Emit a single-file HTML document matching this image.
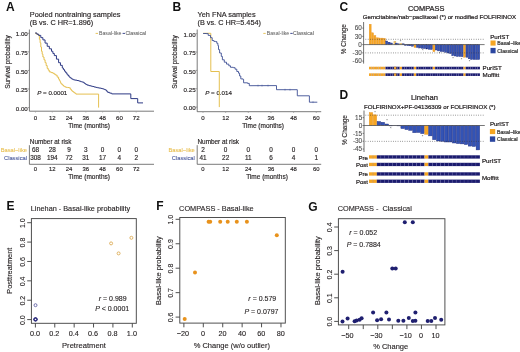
<!DOCTYPE html>
<html><head><meta charset="utf-8"><style>
html,body{margin:0;padding:0;background:#fff;}
svg{display:block;will-change:transform;font-family:"Liberation Sans", sans-serif;}
</style></head><body>
<svg width="520" height="352" viewBox="0 0 520 352">
<rect width="520" height="352" fill="#fff"/>
<text x="6.0" y="11.3" font-size="12" text-anchor="start" fill="#111" font-weight="bold">A</text>
<text x="172.6" y="10.8" font-size="12" text-anchor="start" fill="#111" font-weight="bold">B</text>
<text x="339.5" y="10.8" font-size="12" text-anchor="start" fill="#111" font-weight="bold">C</text>
<text x="339.5" y="98.6" font-size="12" text-anchor="start" fill="#111" font-weight="bold">D</text>
<text x="6.5" y="210.3" font-size="12" text-anchor="start" fill="#111" font-weight="bold">E</text>
<text x="156.3" y="210.3" font-size="12" text-anchor="start" fill="#111" font-weight="bold">F</text>
<text x="308.3" y="210.9" font-size="12" text-anchor="start" fill="#111" font-weight="bold">G</text>
<text x="29.8" y="17.1" font-size="7.35" text-anchor="start" fill="#231f20" stroke="#231f20" stroke-width="0.150">Pooled nontraining samples</text>
<text x="29.8" y="25.2" font-size="7.3" text-anchor="start" fill="#231f20" stroke="#231f20" stroke-width="0.150">(B vs. C HR=1.896)</text>
<line x1="29.4" y1="29.5" x2="29.4" y2="111.2" stroke="#4d4d4d" stroke-width="0.75"/>
<line x1="29.4" y1="111.2" x2="154.0" y2="111.2" stroke="#4d4d4d" stroke-width="0.75"/>
<line x1="27.799999999999997" y1="33.3" x2="29.4" y2="33.3" stroke="#777" stroke-width="0.7"/>
<text x="27.799999999999997" y="36.4" font-size="6.2" text-anchor="end" fill="#231f20" stroke="#231f20" stroke-width="0.150">1.00</text>
<line x1="27.799999999999997" y1="51.875" x2="29.4" y2="51.875" stroke="#777" stroke-width="0.7"/>
<text x="27.799999999999997" y="54.975" font-size="6.2" text-anchor="end" fill="#231f20" stroke="#231f20" stroke-width="0.150">0.75</text>
<line x1="27.799999999999997" y1="70.44999999999999" x2="29.4" y2="70.44999999999999" stroke="#777" stroke-width="0.7"/>
<text x="27.799999999999997" y="73.54999999999998" font-size="6.2" text-anchor="end" fill="#231f20" stroke="#231f20" stroke-width="0.150">0.50</text>
<line x1="27.799999999999997" y1="89.02499999999999" x2="29.4" y2="89.02499999999999" stroke="#777" stroke-width="0.7"/>
<text x="27.799999999999997" y="92.12499999999999" font-size="6.2" text-anchor="end" fill="#231f20" stroke="#231f20" stroke-width="0.150">0.25</text>
<line x1="27.799999999999997" y1="107.6" x2="29.4" y2="107.6" stroke="#777" stroke-width="0.7"/>
<text x="27.799999999999997" y="110.69999999999999" font-size="6.2" text-anchor="end" fill="#231f20" stroke="#231f20" stroke-width="0.150">0.00</text>
<line x1="35.5" y1="111.2" x2="35.5" y2="112.5" stroke="#999" stroke-width="0.7"/>
<text x="35.5" y="119.5" font-size="6.1" text-anchor="middle" fill="#231f20" stroke="#231f20" stroke-width="0.150">0</text>
<line x1="52.2796" y1="111.2" x2="52.2796" y2="112.5" stroke="#999" stroke-width="0.7"/>
<text x="52.2796" y="119.5" font-size="6.1" text-anchor="middle" fill="#231f20" stroke="#231f20" stroke-width="0.150">12</text>
<line x1="69.0592" y1="111.2" x2="69.0592" y2="112.5" stroke="#999" stroke-width="0.7"/>
<text x="69.0592" y="119.5" font-size="6.1" text-anchor="middle" fill="#231f20" stroke="#231f20" stroke-width="0.150">24</text>
<line x1="85.8388" y1="111.2" x2="85.8388" y2="112.5" stroke="#999" stroke-width="0.7"/>
<text x="85.8388" y="119.5" font-size="6.1" text-anchor="middle" fill="#231f20" stroke="#231f20" stroke-width="0.150">36</text>
<line x1="102.61840000000001" y1="111.2" x2="102.61840000000001" y2="112.5" stroke="#999" stroke-width="0.7"/>
<text x="102.61840000000001" y="119.5" font-size="6.1" text-anchor="middle" fill="#231f20" stroke="#231f20" stroke-width="0.150">48</text>
<line x1="119.39800000000001" y1="111.2" x2="119.39800000000001" y2="112.5" stroke="#999" stroke-width="0.7"/>
<text x="119.39800000000001" y="119.5" font-size="6.1" text-anchor="middle" fill="#231f20" stroke="#231f20" stroke-width="0.150">60</text>
<line x1="136.1776" y1="111.2" x2="136.1776" y2="112.5" stroke="#999" stroke-width="0.7"/>
<text x="136.1776" y="119.5" font-size="6.1" text-anchor="middle" fill="#231f20" stroke="#231f20" stroke-width="0.150">72</text>
<text x="89.10000000000001" y="127.6" font-size="6.5" text-anchor="middle" fill="#231f20" stroke="#231f20" stroke-width="0.150">Time (months)</text>
<text x="9.8" y="62.0" font-size="6.4" text-anchor="middle" fill="#231f20" stroke="#231f20" stroke-width="0.150" transform="rotate(-90 9.8 62.0)">Survival probability</text>
<text x="37.2" y="95.30000000000001" font-size="6.2" fill="#231f20" stroke="#231f20" stroke-width="0.15"><tspan font-style="italic">P</tspan> = 0.0001</text>
<line x1="95.6" y1="33.4" x2="98.0" y2="33.4" stroke="#e4bd48" stroke-width="0.9"/>
<text x="99.0" y="35.3" font-size="5.2" text-anchor="start" fill="#555">Basal-like</text>
<line x1="122.6" y1="33.4" x2="125.0" y2="33.4" stroke="#2d3984" stroke-width="0.9"/>
<text x="125.4" y="35.3" font-size="5.2" text-anchor="start" fill="#444">Classical</text>
<text x="29.8" y="143.9" font-size="6.4" text-anchor="start" fill="#231f20" stroke="#231f20" stroke-width="0.150">Number at risk</text>
<line x1="29.4" y1="145.2" x2="29.4" y2="164.3" stroke="#4d4d4d" stroke-width="0.75"/>
<line x1="29.4" y1="164.3" x2="154.0" y2="164.3" stroke="#4d4d4d" stroke-width="0.75"/>
<text x="27.0" y="152.0" font-size="5.75" text-anchor="end" fill="#e8bf50" stroke="#e8bf50" stroke-width="0.100">Basal−like</text>
<text x="27.0" y="160.1" font-size="5.75" text-anchor="end" fill="#4a5a9c" stroke="#4a5a9c" stroke-width="0.100">Classical</text>
<text x="35.5" y="170.8" font-size="5.9" text-anchor="middle" fill="#231f20" stroke="#231f20" stroke-width="0.150">0</text>
<text x="35.5" y="152.3" font-size="6.4" text-anchor="middle" fill="#231f20" stroke="#231f20" stroke-width="0.150">68</text>
<text x="35.5" y="160.2" font-size="6.4" text-anchor="middle" fill="#231f20" stroke="#231f20" stroke-width="0.150">308</text>
<text x="52.2796" y="170.8" font-size="5.9" text-anchor="middle" fill="#231f20" stroke="#231f20" stroke-width="0.150">12</text>
<text x="52.2796" y="152.3" font-size="6.4" text-anchor="middle" fill="#231f20" stroke="#231f20" stroke-width="0.150">28</text>
<text x="52.2796" y="160.2" font-size="6.4" text-anchor="middle" fill="#231f20" stroke="#231f20" stroke-width="0.150">194</text>
<text x="69.0592" y="170.8" font-size="5.9" text-anchor="middle" fill="#231f20" stroke="#231f20" stroke-width="0.150">24</text>
<text x="69.0592" y="152.3" font-size="6.4" text-anchor="middle" fill="#231f20" stroke="#231f20" stroke-width="0.150">9</text>
<text x="69.0592" y="160.2" font-size="6.4" text-anchor="middle" fill="#231f20" stroke="#231f20" stroke-width="0.150">72</text>
<text x="85.8388" y="170.8" font-size="5.9" text-anchor="middle" fill="#231f20" stroke="#231f20" stroke-width="0.150">36</text>
<text x="85.8388" y="152.3" font-size="6.4" text-anchor="middle" fill="#231f20" stroke="#231f20" stroke-width="0.150">3</text>
<text x="85.8388" y="160.2" font-size="6.4" text-anchor="middle" fill="#231f20" stroke="#231f20" stroke-width="0.150">31</text>
<text x="102.61840000000001" y="170.8" font-size="5.9" text-anchor="middle" fill="#231f20" stroke="#231f20" stroke-width="0.150">48</text>
<text x="102.61840000000001" y="152.3" font-size="6.4" text-anchor="middle" fill="#231f20" stroke="#231f20" stroke-width="0.150">0</text>
<text x="102.61840000000001" y="160.2" font-size="6.4" text-anchor="middle" fill="#231f20" stroke="#231f20" stroke-width="0.150">17</text>
<text x="119.39800000000001" y="170.8" font-size="5.9" text-anchor="middle" fill="#231f20" stroke="#231f20" stroke-width="0.150">60</text>
<text x="119.39800000000001" y="152.3" font-size="6.4" text-anchor="middle" fill="#231f20" stroke="#231f20" stroke-width="0.150">0</text>
<text x="119.39800000000001" y="160.2" font-size="6.4" text-anchor="middle" fill="#231f20" stroke="#231f20" stroke-width="0.150">4</text>
<text x="136.1776" y="170.8" font-size="5.9" text-anchor="middle" fill="#231f20" stroke="#231f20" stroke-width="0.150">72</text>
<text x="136.1776" y="152.3" font-size="6.4" text-anchor="middle" fill="#231f20" stroke="#231f20" stroke-width="0.150">0</text>
<text x="136.1776" y="160.2" font-size="6.4" text-anchor="middle" fill="#231f20" stroke="#231f20" stroke-width="0.150">2</text>
<text x="89.10000000000001" y="179.0" font-size="6.5" text-anchor="middle" fill="#231f20" stroke="#231f20" stroke-width="0.150">Time (months)</text>
<text x="197.5" y="17.1" font-size="7.35" text-anchor="start" fill="#231f20" stroke="#231f20" stroke-width="0.150">Yeh FNA samples</text>
<text x="197.5" y="25.2" font-size="7.3" text-anchor="start" fill="#231f20" stroke="#231f20" stroke-width="0.150">(B vs. C HR=5.454)</text>
<line x1="197.2" y1="29.5" x2="197.2" y2="111.7" stroke="#4d4d4d" stroke-width="0.75"/>
<line x1="197.2" y1="111.7" x2="321.2" y2="111.7" stroke="#4d4d4d" stroke-width="0.75"/>
<line x1="195.6" y1="33.69999999999999" x2="197.2" y2="33.69999999999999" stroke="#777" stroke-width="0.7"/>
<text x="195.6" y="36.79999999999999" font-size="6.2" text-anchor="end" fill="#231f20" stroke="#231f20" stroke-width="0.150">1.00</text>
<line x1="195.6" y1="52.04999999999999" x2="197.2" y2="52.04999999999999" stroke="#777" stroke-width="0.7"/>
<text x="195.6" y="55.14999999999999" font-size="6.2" text-anchor="end" fill="#231f20" stroke="#231f20" stroke-width="0.150">0.75</text>
<line x1="195.6" y1="70.39999999999999" x2="197.2" y2="70.39999999999999" stroke="#777" stroke-width="0.7"/>
<text x="195.6" y="73.49999999999999" font-size="6.2" text-anchor="end" fill="#231f20" stroke="#231f20" stroke-width="0.150">0.50</text>
<line x1="195.6" y1="88.75" x2="197.2" y2="88.75" stroke="#777" stroke-width="0.7"/>
<text x="195.6" y="91.85" font-size="6.2" text-anchor="end" fill="#231f20" stroke="#231f20" stroke-width="0.150">0.25</text>
<line x1="195.6" y1="107.1" x2="197.2" y2="107.1" stroke="#777" stroke-width="0.7"/>
<text x="195.6" y="110.19999999999999" font-size="6.2" text-anchor="end" fill="#231f20" stroke="#231f20" stroke-width="0.150">0.00</text>
<line x1="203.0" y1="111.7" x2="203.0" y2="113.0" stroke="#999" stroke-width="0.7"/>
<text x="203.0" y="120.0" font-size="6.1" text-anchor="middle" fill="#231f20" stroke="#231f20" stroke-width="0.150">0</text>
<line x1="225.65" y1="111.7" x2="225.65" y2="113.0" stroke="#999" stroke-width="0.7"/>
<text x="225.65" y="120.0" font-size="6.1" text-anchor="middle" fill="#231f20" stroke="#231f20" stroke-width="0.150">12</text>
<line x1="248.3" y1="111.7" x2="248.3" y2="113.0" stroke="#999" stroke-width="0.7"/>
<text x="248.3" y="120.0" font-size="6.1" text-anchor="middle" fill="#231f20" stroke="#231f20" stroke-width="0.150">24</text>
<line x1="270.95" y1="111.7" x2="270.95" y2="113.0" stroke="#999" stroke-width="0.7"/>
<text x="270.95" y="120.0" font-size="6.1" text-anchor="middle" fill="#231f20" stroke="#231f20" stroke-width="0.150">36</text>
<line x1="293.6" y1="111.7" x2="293.6" y2="113.0" stroke="#999" stroke-width="0.7"/>
<text x="293.6" y="120.0" font-size="6.1" text-anchor="middle" fill="#231f20" stroke="#231f20" stroke-width="0.150">48</text>
<line x1="316.25" y1="111.7" x2="316.25" y2="113.0" stroke="#999" stroke-width="0.7"/>
<text x="316.25" y="120.0" font-size="6.1" text-anchor="middle" fill="#231f20" stroke="#231f20" stroke-width="0.150">60</text>
<text x="263.2" y="127.6" font-size="6.5" text-anchor="middle" fill="#231f20" stroke="#231f20" stroke-width="0.150">Time (months)</text>
<text x="177.0" y="62.0" font-size="6.4" text-anchor="middle" fill="#231f20" stroke="#231f20" stroke-width="0.150" transform="rotate(-90 177.0 62.0)">Survival probability</text>
<text x="205.2" y="95.4" font-size="6.2" fill="#231f20" stroke="#231f20" stroke-width="0.15"><tspan font-style="italic">P</tspan> = 0.014</text>
<line x1="263.3" y1="33.4" x2="265.7" y2="33.4" stroke="#e4bd48" stroke-width="0.9"/>
<text x="266.7" y="35.3" font-size="5.2" text-anchor="start" fill="#555">Basal-like</text>
<line x1="290.3" y1="33.4" x2="292.7" y2="33.4" stroke="#2d3984" stroke-width="0.9"/>
<text x="293.09999999999997" y="35.3" font-size="5.2" text-anchor="start" fill="#444">Classical</text>
<text x="197.5" y="143.9" font-size="6.4" text-anchor="start" fill="#231f20" stroke="#231f20" stroke-width="0.150">Number at risk</text>
<line x1="197.2" y1="145.2" x2="197.2" y2="164.3" stroke="#4d4d4d" stroke-width="0.75"/>
<line x1="197.2" y1="164.3" x2="321.2" y2="164.3" stroke="#4d4d4d" stroke-width="0.75"/>
<text x="194.79999999999998" y="152.0" font-size="5.75" text-anchor="end" fill="#e8bf50" stroke="#e8bf50" stroke-width="0.100">Basal−like</text>
<text x="194.79999999999998" y="160.1" font-size="5.75" text-anchor="end" fill="#4a5a9c" stroke="#4a5a9c" stroke-width="0.100">Classical</text>
<text x="203.0" y="170.8" font-size="5.9" text-anchor="middle" fill="#231f20" stroke="#231f20" stroke-width="0.150">0</text>
<text x="203.0" y="152.3" font-size="6.4" text-anchor="middle" fill="#231f20" stroke="#231f20" stroke-width="0.150">2</text>
<text x="203.0" y="160.2" font-size="6.4" text-anchor="middle" fill="#231f20" stroke="#231f20" stroke-width="0.150">41</text>
<text x="225.65" y="170.8" font-size="5.9" text-anchor="middle" fill="#231f20" stroke="#231f20" stroke-width="0.150">12</text>
<text x="225.65" y="152.3" font-size="6.4" text-anchor="middle" fill="#231f20" stroke="#231f20" stroke-width="0.150">0</text>
<text x="225.65" y="160.2" font-size="6.4" text-anchor="middle" fill="#231f20" stroke="#231f20" stroke-width="0.150">22</text>
<text x="248.3" y="170.8" font-size="5.9" text-anchor="middle" fill="#231f20" stroke="#231f20" stroke-width="0.150">24</text>
<text x="248.3" y="152.3" font-size="6.4" text-anchor="middle" fill="#231f20" stroke="#231f20" stroke-width="0.150">0</text>
<text x="248.3" y="160.2" font-size="6.4" text-anchor="middle" fill="#231f20" stroke="#231f20" stroke-width="0.150">11</text>
<text x="270.95" y="170.8" font-size="5.9" text-anchor="middle" fill="#231f20" stroke="#231f20" stroke-width="0.150">36</text>
<text x="270.95" y="152.3" font-size="6.4" text-anchor="middle" fill="#231f20" stroke="#231f20" stroke-width="0.150">0</text>
<text x="270.95" y="160.2" font-size="6.4" text-anchor="middle" fill="#231f20" stroke="#231f20" stroke-width="0.150">6</text>
<text x="293.6" y="170.8" font-size="5.9" text-anchor="middle" fill="#231f20" stroke="#231f20" stroke-width="0.150">48</text>
<text x="293.6" y="152.3" font-size="6.4" text-anchor="middle" fill="#231f20" stroke="#231f20" stroke-width="0.150">0</text>
<text x="293.6" y="160.2" font-size="6.4" text-anchor="middle" fill="#231f20" stroke="#231f20" stroke-width="0.150">4</text>
<text x="316.25" y="170.8" font-size="5.9" text-anchor="middle" fill="#231f20" stroke="#231f20" stroke-width="0.150">60</text>
<text x="316.25" y="152.3" font-size="6.4" text-anchor="middle" fill="#231f20" stroke="#231f20" stroke-width="0.150">0</text>
<text x="316.25" y="160.2" font-size="6.4" text-anchor="middle" fill="#231f20" stroke="#231f20" stroke-width="0.150">1</text>
<text x="267.0" y="179.0" font-size="6.5" text-anchor="middle" fill="#231f20" stroke="#231f20" stroke-width="0.150">Time (months)</text>
<polyline points="35.10,33.30 36.90,33.30 36.90,34.50 38.70,34.50 38.70,35.70 39.40,35.70 39.40,39.25 40.10,39.25 40.10,42.80 40.80,42.80 40.80,47.05 41.50,47.05 41.50,51.30 42.20,51.30 42.20,54.15 42.90,54.15 42.90,57.00 44.00,57.00 44.00,59.85 45.10,59.85 45.10,62.70 46.15,62.70 46.15,65.55 47.20,65.55 47.20,68.40 48.25,68.40 48.25,70.15 49.30,70.15 49.30,71.90 51.10,71.90 51.10,72.60 52.90,72.60 52.90,73.30 54.30,73.30 54.30,74.25 55.70,74.25 55.70,75.20 57.15,75.20 57.15,77.10 58.60,77.10 58.60,79.00 59.30,79.00 59.30,80.30 60.00,80.30 60.00,81.60 60.55,81.60 60.55,82.75 61.10,82.75 61.10,83.90 62.25,83.90 62.25,85.00 63.40,85.00 63.40,86.10 64.55,86.10 64.55,86.70 65.70,86.70 65.70,87.30 67.40,87.30 67.40,87.55 69.10,87.55 69.10,87.80 70.25,87.80 70.25,89.25 71.40,89.25 71.40,90.70 72.50,90.70 72.50,91.55 73.60,91.55 73.60,92.40 74.75,92.40 74.75,93.25 75.90,93.25 75.90,94.10 98.60,94.10 98.60,107.60" fill="none" stroke="#e4bd48" stroke-width="0.95" stroke-linejoin="round"/>
<polyline points="35.10,33.00 36.90,33.00 36.90,34.20 38.70,34.20 38.70,35.40 40.80,35.40 40.80,37.65 42.90,37.65 42.90,39.90 45.05,39.90 45.05,43.10 47.20,43.10 47.20,46.30 49.35,46.30 49.35,48.80 51.50,48.80 51.50,51.30 52.90,51.30 52.90,53.45 54.30,53.45 54.30,55.60 56.45,55.60 56.45,59.15 58.60,59.15 58.60,62.70 60.45,62.70 60.45,65.35 62.30,65.35 62.30,68.00 63.40,68.00 63.40,69.60 64.50,69.60 64.50,71.20 65.65,71.20 65.65,72.70 66.80,72.70 66.80,74.20 67.95,74.20 67.95,75.60 69.10,75.60 69.10,77.00 70.25,77.00 70.25,77.90 71.40,77.90 71.40,78.80 72.50,78.80 72.50,79.35 73.60,79.35 73.60,79.90 75.30,79.90 75.30,80.20 77.00,80.20 77.00,80.50 78.75,80.50 78.75,81.05 80.50,81.05 80.50,81.60 81.60,81.60 81.60,81.90 82.70,81.90 82.70,82.20 83.85,82.20 83.85,83.05 85.00,83.05 85.00,83.90 86.15,83.90 86.15,84.55 87.30,84.55 87.30,85.20 89.00,85.20 89.00,85.65 90.70,85.65 90.70,86.10 92.40,86.10 92.40,86.55 94.10,86.55 94.10,87.00 95.80,87.00 95.80,87.40 97.50,87.40 97.50,87.80 99.20,87.80 99.20,88.10 100.90,88.10 100.90,88.40 102.05,88.40 102.05,88.70 103.20,88.70 103.20,89.00 104.35,89.00 104.35,89.55 105.50,89.55 105.50,90.10 106.60,90.10 106.60,91.25 107.70,91.25 107.70,92.40 109.70,92.40 109.70,93.15 111.70,93.15 111.70,93.90 130.80,93.90 130.80,98.60 137.70,98.60 137.70,102.90 143.00,102.90" fill="none" stroke="#2d3984" stroke-width="1.0" stroke-linejoin="round"/>
<polyline points="203.20,33.30 210.80,33.30 210.80,71.50 219.30,71.50 219.30,107.10" fill="none" stroke="#e4bd48" stroke-width="0.95" stroke-linejoin="round"/>
<polyline points="203.10,33.50 206.00,33.50 206.00,33.60 208.20,33.60 208.20,35.40 210.50,35.40 210.50,37.70 212.20,37.70 212.20,40.50 213.90,40.50 213.90,41.40 215.60,41.40 215.60,41.60 216.80,41.60 216.80,43.30 217.90,43.30 217.90,45.60 218.50,45.60 218.50,49.60 219.60,49.60 219.60,53.00 221.30,53.00 221.30,56.40 222.40,56.40 222.40,59.80 224.30,59.80 224.30,62.20 226.50,62.20 226.50,64.10 228.80,64.10 228.80,65.80 230.50,65.80 230.50,67.30 233.40,67.30 233.40,67.70 235.10,67.70 235.10,69.20 236.80,69.20 236.80,71.50 238.50,71.50 238.50,73.20 239.60,73.20 239.60,76.00 240.80,76.00 240.80,78.90 243.00,78.90 243.00,79.40 243.60,79.40 243.60,82.80 247.60,82.80 247.60,83.40 249.30,83.40 249.30,85.70 276.50,85.60 276.50,89.70 297.30,89.70 297.30,95.80 309.40,95.80 309.40,102.20 317.30,102.20" fill="none" stroke="#3d4f94" stroke-width="0.9" stroke-linejoin="round"/>
<line x1="258" y1="84.69999999999999" x2="258" y2="86.5" stroke="#3d4f94" stroke-width="0.5"/>
<line x1="262" y1="84.69999999999999" x2="262" y2="86.5" stroke="#3d4f94" stroke-width="0.5"/>
<line x1="268" y1="84.69999999999999" x2="268" y2="86.5" stroke="#3d4f94" stroke-width="0.5"/>
<line x1="285" y1="88.8" x2="285" y2="90.60000000000001" stroke="#3d4f94" stroke-width="0.5"/>
<line x1="290" y1="88.8" x2="290" y2="90.60000000000001" stroke="#3d4f94" stroke-width="0.5"/>
<line x1="313" y1="101.3" x2="313" y2="103.10000000000001" stroke="#3d4f94" stroke-width="0.5"/>
<text x="426.2" y="11.4" font-size="7.4" text-anchor="middle" fill="#231f20" stroke="#231f20" stroke-width="0.220">COMPASS</text>
<text x="362.8" y="18.7" font-size="6.1" text-anchor="start" fill="#231f20" stroke="#231f20" stroke-width="0.220">Gemcitabine/nab−paclitaxel (*) or modified FOLFIRINOX</text>
<text x="346.1" y="39.2" font-size="6.4" text-anchor="middle" fill="#231f20" stroke="#231f20" stroke-width="0.120" transform="rotate(-90 346.1 39.2)">% Change</text>
<line x1="363.6" y1="22.0" x2="363.6" y2="63.6" stroke="#4d4d4d" stroke-width="0.8"/>
<line x1="362.2" y1="28.1" x2="363.6" y2="28.1" stroke="#4d4d4d" stroke-width="0.7"/>
<text x="361.8" y="30.3" font-size="6.4" text-anchor="end" fill="#505050" stroke="#505050" stroke-width="0.120">60</text>
<line x1="362.2" y1="36.35" x2="363.6" y2="36.35" stroke="#4d4d4d" stroke-width="0.7"/>
<text x="361.8" y="38.550000000000004" font-size="6.4" text-anchor="end" fill="#505050" stroke="#505050" stroke-width="0.120">30</text>
<line x1="362.2" y1="44.6" x2="363.6" y2="44.6" stroke="#4d4d4d" stroke-width="0.7"/>
<text x="361.8" y="46.800000000000004" font-size="6.4" text-anchor="end" fill="#505050" stroke="#505050" stroke-width="0.120">0</text>
<line x1="362.2" y1="52.85" x2="363.6" y2="52.85" stroke="#4d4d4d" stroke-width="0.7"/>
<text x="361.8" y="55.050000000000004" font-size="6.4" text-anchor="end" fill="#505050" stroke="#505050" stroke-width="0.120">-30</text>
<line x1="362.2" y1="61.1" x2="363.6" y2="61.1" stroke="#4d4d4d" stroke-width="0.7"/>
<text x="361.8" y="63.300000000000004" font-size="6.4" text-anchor="end" fill="#505050" stroke="#505050" stroke-width="0.120">-60</text>
<rect x="369.20" y="24.20" width="1.96" height="20.40" fill="#f6a623" stroke="#e8962a" stroke-width="0.4"/>
<rect x="371.56" y="32.80" width="1.96" height="11.80" fill="#f6a623" stroke="#e8962a" stroke-width="0.4"/>
<rect x="373.92" y="35.50" width="1.96" height="9.10" fill="#f6a623" stroke="#e8962a" stroke-width="0.4"/>
<rect x="376.28" y="37.80" width="1.96" height="6.80" fill="#f6a623" stroke="#e8962a" stroke-width="0.4"/>
<rect x="378.64" y="38.00" width="1.96" height="6.60" fill="#f6a623" stroke="#e8962a" stroke-width="0.4"/>
<rect x="381.00" y="38.10" width="1.96" height="6.50" fill="#f6a623" stroke="#e8962a" stroke-width="0.4"/>
<rect x="383.36" y="38.40" width="1.96" height="6.20" fill="#f6a623" stroke="#e8962a" stroke-width="0.4"/>
<rect x="385.72" y="41.00" width="1.96" height="3.60" fill="#3353b5" stroke="#1e2878" stroke-width="0.4"/>
<rect x="388.08" y="42.20" width="1.96" height="2.40" fill="#3353b5" stroke="#1e2878" stroke-width="0.4"/>
<rect x="390.44" y="43.00" width="1.96" height="1.60" fill="#3353b5" stroke="#1e2878" stroke-width="0.4"/>
<rect x="393.90" y="41.20" width="1.96" height="3.40" fill="#f0c670" stroke="#d8b060" stroke-width="0.4"/>
<rect x="395.16" y="43.10" width="1.96" height="1.50" fill="#3353b5" stroke="#1e2878" stroke-width="0.4"/>
<rect x="397.52" y="43.80" width="1.96" height="0.80" fill="#3353b5" stroke="#1e2878" stroke-width="0.4"/>
<rect x="399.88" y="43.30" width="1.96" height="1.30" fill="#f0c670" stroke="#d8b060" stroke-width="0.4"/>
<rect x="402.24" y="43.80" width="1.96" height="0.80" fill="#3353b5" stroke="#1e2878" stroke-width="0.4"/>
<rect x="404.60" y="44.60" width="1.96" height="0.80" fill="#3353b5" stroke="#1e2878" stroke-width="0.4"/>
<rect x="406.96" y="44.60" width="1.96" height="1.00" fill="#3353b5" stroke="#1e2878" stroke-width="0.4"/>
<rect x="409.32" y="44.60" width="1.96" height="1.20" fill="#3353b5" stroke="#1e2878" stroke-width="0.4"/>
<rect x="411.68" y="44.60" width="1.96" height="1.60" fill="#3353b5" stroke="#1e2878" stroke-width="0.4"/>
<rect x="414.04" y="44.60" width="1.96" height="2.90" fill="#f6a623" stroke="#e8962a" stroke-width="0.4"/>
<rect x="416.40" y="44.60" width="1.96" height="2.80" fill="#3353b5" stroke="#1e2878" stroke-width="0.4"/>
<rect x="418.76" y="44.60" width="1.96" height="3.40" fill="#3353b5" stroke="#1e2878" stroke-width="0.4"/>
<rect x="421.12" y="44.60" width="1.96" height="3.70" fill="#3353b5" stroke="#1e2878" stroke-width="0.4"/>
<rect x="423.48" y="44.60" width="1.96" height="3.90" fill="#3353b5" stroke="#1e2878" stroke-width="0.4"/>
<rect x="425.84" y="44.60" width="1.96" height="4.40" fill="#3353b5" stroke="#1e2878" stroke-width="0.4"/>
<rect x="428.20" y="44.60" width="1.96" height="4.70" fill="#3353b5" stroke="#1e2878" stroke-width="0.4"/>
<rect x="430.56" y="44.60" width="1.96" height="4.90" fill="#3353b5" stroke="#1e2878" stroke-width="0.4"/>
<rect x="432.92" y="44.60" width="1.96" height="7.10" fill="#f6a623" stroke="#e8962a" stroke-width="0.4"/>
<rect x="435.28" y="44.60" width="1.96" height="5.40" fill="#3353b5" stroke="#1e2878" stroke-width="0.4"/>
<rect x="437.64" y="44.60" width="1.96" height="6.30" fill="#3353b5" stroke="#1e2878" stroke-width="0.4"/>
<rect x="440.00" y="44.60" width="1.96" height="6.90" fill="#3353b5" stroke="#1e2878" stroke-width="0.4"/>
<rect x="442.36" y="44.60" width="1.96" height="7.10" fill="#3353b5" stroke="#1e2878" stroke-width="0.4"/>
<rect x="444.72" y="44.60" width="1.96" height="7.70" fill="#3353b5" stroke="#1e2878" stroke-width="0.4"/>
<rect x="447.08" y="44.60" width="1.96" height="8.40" fill="#3353b5" stroke="#1e2878" stroke-width="0.4"/>
<rect x="449.44" y="44.60" width="1.96" height="9.00" fill="#3353b5" stroke="#1e2878" stroke-width="0.4"/>
<rect x="451.80" y="44.60" width="1.96" height="11.10" fill="#3353b5" stroke="#1e2878" stroke-width="0.4"/>
<rect x="454.16" y="44.60" width="1.96" height="11.40" fill="#3353b5" stroke="#1e2878" stroke-width="0.4"/>
<rect x="456.52" y="44.60" width="1.96" height="11.90" fill="#3353b5" stroke="#1e2878" stroke-width="0.4"/>
<rect x="458.88" y="44.60" width="1.96" height="11.90" fill="#3353b5" stroke="#1e2878" stroke-width="0.4"/>
<rect x="461.24" y="44.60" width="1.96" height="12.10" fill="#3353b5" stroke="#1e2878" stroke-width="0.4"/>
<rect x="463.60" y="44.60" width="1.96" height="12.60" fill="#f6a623" stroke="#e8962a" stroke-width="0.4"/>
<rect x="465.96" y="44.60" width="1.96" height="12.60" fill="#3353b5" stroke="#1e2878" stroke-width="0.4"/>
<rect x="468.32" y="44.60" width="1.96" height="14.20" fill="#3353b5" stroke="#1e2878" stroke-width="0.4"/>
<rect x="470.68" y="44.60" width="1.96" height="14.90" fill="#3353b5" stroke="#1e2878" stroke-width="0.4"/>
<rect x="473.04" y="44.60" width="1.96" height="14.90" fill="#3353b5" stroke="#1e2878" stroke-width="0.4"/>
<rect x="475.40" y="44.60" width="1.96" height="14.90" fill="#3353b5" stroke="#1e2878" stroke-width="0.4"/>
<rect x="477.76" y="44.60" width="1.96" height="14.90" fill="#3353b5" stroke="#1e2878" stroke-width="0.4"/>
<line x1="363.6" y1="44.6" x2="484.6" y2="44.6" stroke="#555" stroke-width="0.8"/>
<line x1="365.5" y1="39.3" x2="484.6" y2="39.3" stroke="#333" stroke-width="0.7" stroke-dasharray="0.7 1.6"/>
<line x1="365.5" y1="52.9" x2="484.6" y2="52.9" stroke="#333" stroke-width="0.7" stroke-dasharray="0.7 1.6"/>
<text x="400.5" y="43.2" font-size="4.0" text-anchor="middle" fill="#333">*</text>
<text x="422.7" y="52.0" font-size="4.0" text-anchor="middle" fill="#333">*</text>
<text x="439.6" y="55.0" font-size="4.0" text-anchor="middle" fill="#333">*</text>
<text x="453.0" y="60.2" font-size="4.0" text-anchor="middle" fill="#333">*</text>
<text x="461.5" y="61.300000000000004" font-size="4.0" text-anchor="middle" fill="#333">*</text>
<text x="469.5" y="62.9" font-size="4.0" text-anchor="middle" fill="#333">*</text>
<rect x="369.00" y="66.75" width="2.36" height="2.60" fill="#f6a623"/>
<rect x="371.36" y="66.75" width="2.36" height="2.60" fill="#f6a623"/>
<rect x="373.72" y="66.75" width="2.36" height="2.60" fill="#f6a623"/>
<rect x="376.08" y="66.75" width="2.36" height="2.60" fill="#f6a623"/>
<rect x="378.44" y="66.75" width="2.36" height="2.60" fill="#f6a623"/>
<rect x="380.80" y="66.75" width="2.36" height="2.60" fill="#f6a623"/>
<rect x="383.16" y="66.75" width="2.36" height="2.60" fill="#f6a623"/>
<rect x="385.52" y="66.75" width="2.36" height="2.60" fill="#1b1b6e"/>
<rect x="387.88" y="66.75" width="2.36" height="2.60" fill="#1b1b6e"/>
<rect x="390.24" y="66.75" width="2.36" height="2.60" fill="#1b1b6e"/>
<rect x="392.60" y="66.75" width="2.36" height="2.60" fill="#1b1b6e"/>
<rect x="394.96" y="66.75" width="2.36" height="2.60" fill="#1b1b6e"/>
<rect x="397.32" y="66.75" width="2.36" height="2.60" fill="#1b1b6e"/>
<rect x="399.68" y="66.75" width="2.36" height="2.60" fill="#f6a623"/>
<rect x="402.04" y="66.75" width="2.36" height="2.60" fill="#1b1b6e"/>
<rect x="404.40" y="66.75" width="2.36" height="2.60" fill="#1b1b6e"/>
<rect x="406.76" y="66.75" width="2.36" height="2.60" fill="#1b1b6e"/>
<rect x="409.12" y="66.75" width="2.36" height="2.60" fill="#1b1b6e"/>
<rect x="411.48" y="66.75" width="2.36" height="2.60" fill="#1b1b6e"/>
<rect x="413.84" y="66.75" width="2.36" height="2.60" fill="#f6a623"/>
<rect x="416.20" y="66.75" width="2.36" height="2.60" fill="#1b1b6e"/>
<rect x="418.56" y="66.75" width="2.36" height="2.60" fill="#1b1b6e"/>
<rect x="420.92" y="66.75" width="2.36" height="2.60" fill="#1b1b6e"/>
<rect x="423.28" y="66.75" width="2.36" height="2.60" fill="#1b1b6e"/>
<rect x="425.64" y="66.75" width="2.36" height="2.60" fill="#1b1b6e"/>
<rect x="428.00" y="66.75" width="2.36" height="2.60" fill="#1b1b6e"/>
<rect x="430.36" y="66.75" width="2.36" height="2.60" fill="#1b1b6e"/>
<rect x="432.72" y="66.75" width="2.36" height="2.60" fill="#f6a623"/>
<rect x="435.08" y="66.75" width="2.36" height="2.60" fill="#1b1b6e"/>
<rect x="437.44" y="66.75" width="2.36" height="2.60" fill="#1b1b6e"/>
<rect x="439.80" y="66.75" width="2.36" height="2.60" fill="#1b1b6e"/>
<rect x="442.16" y="66.75" width="2.36" height="2.60" fill="#1b1b6e"/>
<rect x="444.52" y="66.75" width="2.36" height="2.60" fill="#1b1b6e"/>
<rect x="446.88" y="66.75" width="2.36" height="2.60" fill="#1b1b6e"/>
<rect x="449.24" y="66.75" width="2.36" height="2.60" fill="#1b1b6e"/>
<rect x="451.60" y="66.75" width="2.36" height="2.60" fill="#1b1b6e"/>
<rect x="453.96" y="66.75" width="2.36" height="2.60" fill="#1b1b6e"/>
<rect x="456.32" y="66.75" width="2.36" height="2.60" fill="#1b1b6e"/>
<rect x="458.68" y="66.75" width="2.36" height="2.60" fill="#1b1b6e"/>
<rect x="461.04" y="66.75" width="2.36" height="2.60" fill="#1b1b6e"/>
<rect x="463.40" y="66.75" width="2.36" height="2.60" fill="#f6a623"/>
<rect x="465.76" y="66.75" width="2.36" height="2.60" fill="#1b1b6e"/>
<rect x="468.12" y="66.75" width="2.36" height="2.60" fill="#1b1b6e"/>
<rect x="470.48" y="66.75" width="2.36" height="2.60" fill="#1b1b6e"/>
<rect x="472.84" y="66.75" width="2.36" height="2.60" fill="#1b1b6e"/>
<rect x="475.20" y="66.75" width="2.36" height="2.60" fill="#1b1b6e"/>
<rect x="477.56" y="66.75" width="2.36" height="2.60" fill="#1b1b6e"/>
<rect x="393.90" y="66.75" width="2.40" height="2.60" fill="#f6a623"/>
<rect x="371.14" y="66.75" width="0.44" height="2.60" fill="#7a7ab8" opacity="0.6"/>
<rect x="373.50" y="66.75" width="0.44" height="2.60" fill="#7a7ab8" opacity="0.6"/>
<rect x="375.86" y="66.75" width="0.44" height="2.60" fill="#7a7ab8" opacity="0.6"/>
<rect x="378.22" y="66.75" width="0.44" height="2.60" fill="#7a7ab8" opacity="0.6"/>
<rect x="380.58" y="66.75" width="0.44" height="2.60" fill="#7a7ab8" opacity="0.6"/>
<rect x="382.94" y="66.75" width="0.44" height="2.60" fill="#7a7ab8" opacity="0.6"/>
<rect x="385.30" y="66.75" width="0.44" height="2.60" fill="#7a7ab8" opacity="0.6"/>
<rect x="387.66" y="66.75" width="0.44" height="2.60" fill="#7a7ab8" opacity="0.6"/>
<rect x="390.02" y="66.75" width="0.44" height="2.60" fill="#7a7ab8" opacity="0.6"/>
<rect x="392.38" y="66.75" width="0.44" height="2.60" fill="#7a7ab8" opacity="0.6"/>
<rect x="394.74" y="66.75" width="0.44" height="2.60" fill="#7a7ab8" opacity="0.6"/>
<rect x="397.10" y="66.75" width="0.44" height="2.60" fill="#7a7ab8" opacity="0.6"/>
<rect x="399.46" y="66.75" width="0.44" height="2.60" fill="#7a7ab8" opacity="0.6"/>
<rect x="401.82" y="66.75" width="0.44" height="2.60" fill="#7a7ab8" opacity="0.6"/>
<rect x="404.18" y="66.75" width="0.44" height="2.60" fill="#7a7ab8" opacity="0.6"/>
<rect x="406.54" y="66.75" width="0.44" height="2.60" fill="#7a7ab8" opacity="0.6"/>
<rect x="408.90" y="66.75" width="0.44" height="2.60" fill="#7a7ab8" opacity="0.6"/>
<rect x="411.26" y="66.75" width="0.44" height="2.60" fill="#7a7ab8" opacity="0.6"/>
<rect x="413.62" y="66.75" width="0.44" height="2.60" fill="#7a7ab8" opacity="0.6"/>
<rect x="415.98" y="66.75" width="0.44" height="2.60" fill="#7a7ab8" opacity="0.6"/>
<rect x="418.34" y="66.75" width="0.44" height="2.60" fill="#7a7ab8" opacity="0.6"/>
<rect x="420.70" y="66.75" width="0.44" height="2.60" fill="#7a7ab8" opacity="0.6"/>
<rect x="423.06" y="66.75" width="0.44" height="2.60" fill="#7a7ab8" opacity="0.6"/>
<rect x="425.42" y="66.75" width="0.44" height="2.60" fill="#7a7ab8" opacity="0.6"/>
<rect x="427.78" y="66.75" width="0.44" height="2.60" fill="#7a7ab8" opacity="0.6"/>
<rect x="430.14" y="66.75" width="0.44" height="2.60" fill="#7a7ab8" opacity="0.6"/>
<rect x="432.50" y="66.75" width="0.44" height="2.60" fill="#7a7ab8" opacity="0.6"/>
<rect x="434.86" y="66.75" width="0.44" height="2.60" fill="#7a7ab8" opacity="0.6"/>
<rect x="437.22" y="66.75" width="0.44" height="2.60" fill="#7a7ab8" opacity="0.6"/>
<rect x="439.58" y="66.75" width="0.44" height="2.60" fill="#7a7ab8" opacity="0.6"/>
<rect x="441.94" y="66.75" width="0.44" height="2.60" fill="#7a7ab8" opacity="0.6"/>
<rect x="444.30" y="66.75" width="0.44" height="2.60" fill="#7a7ab8" opacity="0.6"/>
<rect x="446.66" y="66.75" width="0.44" height="2.60" fill="#7a7ab8" opacity="0.6"/>
<rect x="449.02" y="66.75" width="0.44" height="2.60" fill="#7a7ab8" opacity="0.6"/>
<rect x="451.38" y="66.75" width="0.44" height="2.60" fill="#7a7ab8" opacity="0.6"/>
<rect x="453.74" y="66.75" width="0.44" height="2.60" fill="#7a7ab8" opacity="0.6"/>
<rect x="456.10" y="66.75" width="0.44" height="2.60" fill="#7a7ab8" opacity="0.6"/>
<rect x="458.46" y="66.75" width="0.44" height="2.60" fill="#7a7ab8" opacity="0.6"/>
<rect x="460.82" y="66.75" width="0.44" height="2.60" fill="#7a7ab8" opacity="0.6"/>
<rect x="463.18" y="66.75" width="0.44" height="2.60" fill="#7a7ab8" opacity="0.6"/>
<rect x="465.54" y="66.75" width="0.44" height="2.60" fill="#7a7ab8" opacity="0.6"/>
<rect x="467.90" y="66.75" width="0.44" height="2.60" fill="#7a7ab8" opacity="0.6"/>
<rect x="470.26" y="66.75" width="0.44" height="2.60" fill="#7a7ab8" opacity="0.6"/>
<rect x="472.62" y="66.75" width="0.44" height="2.60" fill="#7a7ab8" opacity="0.6"/>
<rect x="474.98" y="66.75" width="0.44" height="2.60" fill="#7a7ab8" opacity="0.6"/>
<rect x="477.34" y="66.75" width="0.44" height="2.60" fill="#7a7ab8" opacity="0.6"/>
<rect x="369.00" y="73.35" width="2.36" height="2.60" fill="#f6a623"/>
<rect x="371.36" y="73.35" width="2.36" height="2.60" fill="#f6a623"/>
<rect x="373.72" y="73.35" width="2.36" height="2.60" fill="#f6a623"/>
<rect x="376.08" y="73.35" width="2.36" height="2.60" fill="#f6a623"/>
<rect x="378.44" y="73.35" width="2.36" height="2.60" fill="#f6a623"/>
<rect x="380.80" y="73.35" width="2.36" height="2.60" fill="#f6a623"/>
<rect x="383.16" y="73.35" width="2.36" height="2.60" fill="#f6a623"/>
<rect x="385.52" y="73.35" width="2.36" height="2.60" fill="#1b1b6e"/>
<rect x="387.88" y="73.35" width="2.36" height="2.60" fill="#1b1b6e"/>
<rect x="390.24" y="73.35" width="2.36" height="2.60" fill="#1b1b6e"/>
<rect x="392.60" y="73.35" width="2.36" height="2.60" fill="#1b1b6e"/>
<rect x="394.96" y="73.35" width="2.36" height="2.60" fill="#1b1b6e"/>
<rect x="397.32" y="73.35" width="2.36" height="2.60" fill="#1b1b6e"/>
<rect x="399.68" y="73.35" width="2.36" height="2.60" fill="#f6a623"/>
<rect x="402.04" y="73.35" width="2.36" height="2.60" fill="#1b1b6e"/>
<rect x="404.40" y="73.35" width="2.36" height="2.60" fill="#1b1b6e"/>
<rect x="406.76" y="73.35" width="2.36" height="2.60" fill="#1b1b6e"/>
<rect x="409.12" y="73.35" width="2.36" height="2.60" fill="#1b1b6e"/>
<rect x="411.48" y="73.35" width="2.36" height="2.60" fill="#1b1b6e"/>
<rect x="413.84" y="73.35" width="2.36" height="2.60" fill="#f6a623"/>
<rect x="416.20" y="73.35" width="2.36" height="2.60" fill="#1b1b6e"/>
<rect x="418.56" y="73.35" width="2.36" height="2.60" fill="#1b1b6e"/>
<rect x="420.92" y="73.35" width="2.36" height="2.60" fill="#1b1b6e"/>
<rect x="423.28" y="73.35" width="2.36" height="2.60" fill="#1b1b6e"/>
<rect x="425.64" y="73.35" width="2.36" height="2.60" fill="#1b1b6e"/>
<rect x="428.00" y="73.35" width="2.36" height="2.60" fill="#1b1b6e"/>
<rect x="430.36" y="73.35" width="2.36" height="2.60" fill="#1b1b6e"/>
<rect x="432.72" y="73.35" width="2.36" height="2.60" fill="#1b1b6e"/>
<rect x="435.08" y="73.35" width="2.36" height="2.60" fill="#1b1b6e"/>
<rect x="437.44" y="73.35" width="2.36" height="2.60" fill="#1b1b6e"/>
<rect x="439.80" y="73.35" width="2.36" height="2.60" fill="#1b1b6e"/>
<rect x="442.16" y="73.35" width="2.36" height="2.60" fill="#1b1b6e"/>
<rect x="444.52" y="73.35" width="2.36" height="2.60" fill="#1b1b6e"/>
<rect x="446.88" y="73.35" width="2.36" height="2.60" fill="#1b1b6e"/>
<rect x="449.24" y="73.35" width="2.36" height="2.60" fill="#1b1b6e"/>
<rect x="451.60" y="73.35" width="2.36" height="2.60" fill="#1b1b6e"/>
<rect x="453.96" y="73.35" width="2.36" height="2.60" fill="#1b1b6e"/>
<rect x="456.32" y="73.35" width="2.36" height="2.60" fill="#1b1b6e"/>
<rect x="458.68" y="73.35" width="2.36" height="2.60" fill="#1b1b6e"/>
<rect x="461.04" y="73.35" width="2.36" height="2.60" fill="#1b1b6e"/>
<rect x="463.40" y="73.35" width="2.36" height="2.60" fill="#f6a623"/>
<rect x="465.76" y="73.35" width="2.36" height="2.60" fill="#1b1b6e"/>
<rect x="468.12" y="73.35" width="2.36" height="2.60" fill="#1b1b6e"/>
<rect x="470.48" y="73.35" width="2.36" height="2.60" fill="#1b1b6e"/>
<rect x="472.84" y="73.35" width="2.36" height="2.60" fill="#1b1b6e"/>
<rect x="475.20" y="73.35" width="2.36" height="2.60" fill="#1b1b6e"/>
<rect x="477.56" y="73.35" width="2.36" height="2.60" fill="#1b1b6e"/>
<rect x="393.90" y="73.35" width="2.40" height="2.60" fill="#f6a623"/>
<rect x="371.14" y="73.35" width="0.44" height="2.60" fill="#7a7ab8" opacity="0.6"/>
<rect x="373.50" y="73.35" width="0.44" height="2.60" fill="#7a7ab8" opacity="0.6"/>
<rect x="375.86" y="73.35" width="0.44" height="2.60" fill="#7a7ab8" opacity="0.6"/>
<rect x="378.22" y="73.35" width="0.44" height="2.60" fill="#7a7ab8" opacity="0.6"/>
<rect x="380.58" y="73.35" width="0.44" height="2.60" fill="#7a7ab8" opacity="0.6"/>
<rect x="382.94" y="73.35" width="0.44" height="2.60" fill="#7a7ab8" opacity="0.6"/>
<rect x="385.30" y="73.35" width="0.44" height="2.60" fill="#7a7ab8" opacity="0.6"/>
<rect x="387.66" y="73.35" width="0.44" height="2.60" fill="#7a7ab8" opacity="0.6"/>
<rect x="390.02" y="73.35" width="0.44" height="2.60" fill="#7a7ab8" opacity="0.6"/>
<rect x="392.38" y="73.35" width="0.44" height="2.60" fill="#7a7ab8" opacity="0.6"/>
<rect x="394.74" y="73.35" width="0.44" height="2.60" fill="#7a7ab8" opacity="0.6"/>
<rect x="397.10" y="73.35" width="0.44" height="2.60" fill="#7a7ab8" opacity="0.6"/>
<rect x="399.46" y="73.35" width="0.44" height="2.60" fill="#7a7ab8" opacity="0.6"/>
<rect x="401.82" y="73.35" width="0.44" height="2.60" fill="#7a7ab8" opacity="0.6"/>
<rect x="404.18" y="73.35" width="0.44" height="2.60" fill="#7a7ab8" opacity="0.6"/>
<rect x="406.54" y="73.35" width="0.44" height="2.60" fill="#7a7ab8" opacity="0.6"/>
<rect x="408.90" y="73.35" width="0.44" height="2.60" fill="#7a7ab8" opacity="0.6"/>
<rect x="411.26" y="73.35" width="0.44" height="2.60" fill="#7a7ab8" opacity="0.6"/>
<rect x="413.62" y="73.35" width="0.44" height="2.60" fill="#7a7ab8" opacity="0.6"/>
<rect x="415.98" y="73.35" width="0.44" height="2.60" fill="#7a7ab8" opacity="0.6"/>
<rect x="418.34" y="73.35" width="0.44" height="2.60" fill="#7a7ab8" opacity="0.6"/>
<rect x="420.70" y="73.35" width="0.44" height="2.60" fill="#7a7ab8" opacity="0.6"/>
<rect x="423.06" y="73.35" width="0.44" height="2.60" fill="#7a7ab8" opacity="0.6"/>
<rect x="425.42" y="73.35" width="0.44" height="2.60" fill="#7a7ab8" opacity="0.6"/>
<rect x="427.78" y="73.35" width="0.44" height="2.60" fill="#7a7ab8" opacity="0.6"/>
<rect x="430.14" y="73.35" width="0.44" height="2.60" fill="#7a7ab8" opacity="0.6"/>
<rect x="432.50" y="73.35" width="0.44" height="2.60" fill="#7a7ab8" opacity="0.6"/>
<rect x="434.86" y="73.35" width="0.44" height="2.60" fill="#7a7ab8" opacity="0.6"/>
<rect x="437.22" y="73.35" width="0.44" height="2.60" fill="#7a7ab8" opacity="0.6"/>
<rect x="439.58" y="73.35" width="0.44" height="2.60" fill="#7a7ab8" opacity="0.6"/>
<rect x="441.94" y="73.35" width="0.44" height="2.60" fill="#7a7ab8" opacity="0.6"/>
<rect x="444.30" y="73.35" width="0.44" height="2.60" fill="#7a7ab8" opacity="0.6"/>
<rect x="446.66" y="73.35" width="0.44" height="2.60" fill="#7a7ab8" opacity="0.6"/>
<rect x="449.02" y="73.35" width="0.44" height="2.60" fill="#7a7ab8" opacity="0.6"/>
<rect x="451.38" y="73.35" width="0.44" height="2.60" fill="#7a7ab8" opacity="0.6"/>
<rect x="453.74" y="73.35" width="0.44" height="2.60" fill="#7a7ab8" opacity="0.6"/>
<rect x="456.10" y="73.35" width="0.44" height="2.60" fill="#7a7ab8" opacity="0.6"/>
<rect x="458.46" y="73.35" width="0.44" height="2.60" fill="#7a7ab8" opacity="0.6"/>
<rect x="460.82" y="73.35" width="0.44" height="2.60" fill="#7a7ab8" opacity="0.6"/>
<rect x="463.18" y="73.35" width="0.44" height="2.60" fill="#7a7ab8" opacity="0.6"/>
<rect x="465.54" y="73.35" width="0.44" height="2.60" fill="#7a7ab8" opacity="0.6"/>
<rect x="467.90" y="73.35" width="0.44" height="2.60" fill="#7a7ab8" opacity="0.6"/>
<rect x="470.26" y="73.35" width="0.44" height="2.60" fill="#7a7ab8" opacity="0.6"/>
<rect x="472.62" y="73.35" width="0.44" height="2.60" fill="#7a7ab8" opacity="0.6"/>
<rect x="474.98" y="73.35" width="0.44" height="2.60" fill="#7a7ab8" opacity="0.6"/>
<rect x="477.34" y="73.35" width="0.44" height="2.60" fill="#7a7ab8" opacity="0.6"/>
<text x="482.5" y="70.0" font-size="6.2" text-anchor="start" fill="#231f20" stroke="#231f20" stroke-width="0.220">PurIST</text>
<text x="482.5" y="77.4" font-size="6.2" text-anchor="start" fill="#231f20" stroke="#231f20" stroke-width="0.220">Moffitt</text>
<text x="490.2" y="38.6" font-size="6.1" text-anchor="start" fill="#231f20" stroke="#231f20" stroke-width="0.220">PurIST</text>
<rect x="490.50" y="40.50" width="5.10" height="5.10" fill="#f6a623"/>
<text x="497.3" y="45.3" font-size="5.2" text-anchor="start" fill="#333" stroke="#333" stroke-width="0.220">Basal−like</text>
<rect x="490.50" y="47.90" width="5.10" height="5.40" fill="#2b46a0"/>
<text x="497.3" y="52.7" font-size="5.2" text-anchor="start" fill="#333" stroke="#333" stroke-width="0.220">Classical</text>
<text x="424.4" y="100.2" font-size="7.6" text-anchor="middle" fill="#231f20" stroke="#231f20" stroke-width="0.220">Linehan</text>
<text x="363.9" y="108.6" font-size="6.15" text-anchor="start" fill="#231f20" stroke="#231f20" stroke-width="0.220">FOLFIRINOX+PF-04136309 or FOLFIRINOX (*)</text>
<text x="346.5" y="130.0" font-size="6.4" text-anchor="middle" fill="#231f20" stroke="#231f20" stroke-width="0.120" transform="rotate(-90 346.5 130.0)">% Change</text>
<line x1="364.0" y1="110.5" x2="364.0" y2="152.0" stroke="#4d4d4d" stroke-width="0.8"/>
<line x1="362.6" y1="117.6505" x2="364.0" y2="117.6505" stroke="#4d4d4d" stroke-width="0.7"/>
<text x="362.2" y="119.8505" font-size="6.4" text-anchor="end" fill="#505050" stroke="#505050" stroke-width="0.120">15</text>
<line x1="362.6" y1="125.5" x2="364.0" y2="125.5" stroke="#4d4d4d" stroke-width="0.7"/>
<text x="362.2" y="127.7" font-size="6.4" text-anchor="end" fill="#505050" stroke="#505050" stroke-width="0.120">0</text>
<line x1="362.6" y1="133.3495" x2="364.0" y2="133.3495" stroke="#4d4d4d" stroke-width="0.7"/>
<text x="362.2" y="135.5495" font-size="6.4" text-anchor="end" fill="#505050" stroke="#505050" stroke-width="0.120">-15</text>
<line x1="362.6" y1="141.199" x2="364.0" y2="141.199" stroke="#4d4d4d" stroke-width="0.7"/>
<text x="362.2" y="143.399" font-size="6.4" text-anchor="end" fill="#505050" stroke="#505050" stroke-width="0.120">-30</text>
<line x1="362.6" y1="149.0485" x2="364.0" y2="149.0485" stroke="#4d4d4d" stroke-width="0.7"/>
<text x="362.2" y="151.24849999999998" font-size="6.4" text-anchor="end" fill="#505050" stroke="#505050" stroke-width="0.120">-45</text>
<rect x="369.20" y="112.50" width="3.56" height="13.00" fill="#f6a623" stroke="#e8962a" stroke-width="0.4"/>
<rect x="373.16" y="114.80" width="3.56" height="10.70" fill="#f6a623" stroke="#e8962a" stroke-width="0.4"/>
<rect x="377.12" y="121.50" width="3.56" height="4.00" fill="#3353b5" stroke="#1e2878" stroke-width="0.4"/>
<rect x="381.08" y="122.30" width="3.56" height="3.20" fill="#3353b5" stroke="#1e2878" stroke-width="0.4"/>
<rect x="385.04" y="124.00" width="3.56" height="1.50" fill="#3353b5" stroke="#1e2878" stroke-width="0.4"/>
<rect x="389.00" y="125.50" width="3.56" height="0.40" fill="#3353b5" stroke="#1e2878" stroke-width="0.4"/>
<rect x="392.96" y="125.50" width="3.56" height="0.10" fill="#3353b5" stroke="#1e2878" stroke-width="0.4"/>
<rect x="396.92" y="125.50" width="3.56" height="0.40" fill="#3353b5" stroke="#1e2878" stroke-width="0.4"/>
<rect x="400.88" y="125.50" width="3.56" height="3.10" fill="#3353b5" stroke="#1e2878" stroke-width="0.4"/>
<rect x="404.84" y="125.50" width="3.56" height="4.10" fill="#3353b5" stroke="#1e2878" stroke-width="0.4"/>
<rect x="408.80" y="125.50" width="3.56" height="4.90" fill="#3353b5" stroke="#1e2878" stroke-width="0.4"/>
<rect x="412.76" y="125.50" width="3.56" height="7.20" fill="#3353b5" stroke="#1e2878" stroke-width="0.4"/>
<rect x="416.72" y="125.50" width="3.56" height="7.00" fill="#3353b5" stroke="#1e2878" stroke-width="0.4"/>
<rect x="420.68" y="125.50" width="3.56" height="8.10" fill="#3353b5" stroke="#1e2878" stroke-width="0.4"/>
<rect x="424.64" y="125.50" width="3.56" height="8.90" fill="#f6a623" stroke="#e8962a" stroke-width="0.4"/>
<rect x="428.60" y="125.50" width="3.56" height="10.40" fill="#3353b5" stroke="#1e2878" stroke-width="0.4"/>
<rect x="432.56" y="125.50" width="3.56" height="14.20" fill="#3353b5" stroke="#1e2878" stroke-width="0.4"/>
<rect x="436.52" y="125.50" width="3.56" height="15.50" fill="#3353b5" stroke="#1e2878" stroke-width="0.4"/>
<rect x="440.48" y="125.50" width="3.56" height="15.80" fill="#3353b5" stroke="#1e2878" stroke-width="0.4"/>
<rect x="444.44" y="125.50" width="3.56" height="16.50" fill="#3353b5" stroke="#1e2878" stroke-width="0.4"/>
<rect x="448.40" y="125.50" width="3.56" height="16.50" fill="#3353b5" stroke="#1e2878" stroke-width="0.4"/>
<rect x="452.36" y="125.50" width="3.56" height="17.50" fill="#3353b5" stroke="#1e2878" stroke-width="0.4"/>
<rect x="456.32" y="125.50" width="3.56" height="18.10" fill="#3353b5" stroke="#1e2878" stroke-width="0.4"/>
<rect x="460.28" y="125.50" width="3.56" height="18.40" fill="#3353b5" stroke="#1e2878" stroke-width="0.4"/>
<rect x="464.24" y="125.50" width="3.56" height="19.10" fill="#3353b5" stroke="#1e2878" stroke-width="0.4"/>
<rect x="468.20" y="125.50" width="3.56" height="20.60" fill="#3353b5" stroke="#1e2878" stroke-width="0.4"/>
<rect x="472.16" y="125.50" width="3.56" height="21.00" fill="#3353b5" stroke="#1e2878" stroke-width="0.4"/>
<rect x="476.12" y="125.50" width="3.56" height="24.40" fill="#3353b5" stroke="#1e2878" stroke-width="0.4"/>
<line x1="364.0" y1="125.5" x2="484.8" y2="125.5" stroke="#555" stroke-width="0.8"/>
<line x1="365.5" y1="115.2" x2="485.0" y2="115.2" stroke="#333" stroke-width="0.7" stroke-dasharray="0.7 1.6"/>
<line x1="365.5" y1="141.35" x2="485.0" y2="141.35" stroke="#333" stroke-width="0.7" stroke-dasharray="0.7 1.6"/>
<text x="375.0" y="113.5" font-size="4.0" text-anchor="middle" fill="#333">*</text>
<text x="387.1" y="122.19999999999999" font-size="4.0" text-anchor="middle" fill="#333">*</text>
<text x="390.8" y="130.29999999999998" font-size="4.0" text-anchor="middle" fill="#333">*</text>
<text x="422.5" y="138.4" font-size="4.0" text-anchor="middle" fill="#333">*</text>
<rect x="369.00" y="155.30" width="3.96" height="3.30" fill="#f6a623"/>
<rect x="372.96" y="155.30" width="3.96" height="3.30" fill="#f6a623"/>
<rect x="376.92" y="155.30" width="3.96" height="3.30" fill="#1b1b6e"/>
<rect x="380.88" y="155.30" width="3.96" height="3.30" fill="#1b1b6e"/>
<rect x="384.84" y="155.30" width="3.96" height="3.30" fill="#1b1b6e"/>
<rect x="388.80" y="155.30" width="3.96" height="3.30" fill="#1b1b6e"/>
<rect x="392.76" y="155.30" width="3.96" height="3.30" fill="#1b1b6e"/>
<rect x="396.72" y="155.30" width="3.96" height="3.30" fill="#1b1b6e"/>
<rect x="400.68" y="155.30" width="3.96" height="3.30" fill="#1b1b6e"/>
<rect x="404.64" y="155.30" width="3.96" height="3.30" fill="#1b1b6e"/>
<rect x="408.60" y="155.30" width="3.96" height="3.30" fill="#1b1b6e"/>
<rect x="412.56" y="155.30" width="3.96" height="3.30" fill="#1b1b6e"/>
<rect x="416.52" y="155.30" width="3.96" height="3.30" fill="#1b1b6e"/>
<rect x="420.48" y="155.30" width="3.96" height="3.30" fill="#1b1b6e"/>
<rect x="424.44" y="155.30" width="3.96" height="3.30" fill="#f6a623"/>
<rect x="428.40" y="155.30" width="3.96" height="3.30" fill="#1b1b6e"/>
<rect x="432.36" y="155.30" width="3.96" height="3.30" fill="#1b1b6e"/>
<rect x="436.32" y="155.30" width="3.96" height="3.30" fill="#1b1b6e"/>
<rect x="440.28" y="155.30" width="3.96" height="3.30" fill="#1b1b6e"/>
<rect x="444.24" y="155.30" width="3.96" height="3.30" fill="#1b1b6e"/>
<rect x="448.20" y="155.30" width="3.96" height="3.30" fill="#1b1b6e"/>
<rect x="452.16" y="155.30" width="3.96" height="3.30" fill="#1b1b6e"/>
<rect x="456.12" y="155.30" width="3.96" height="3.30" fill="#1b1b6e"/>
<rect x="460.08" y="155.30" width="3.96" height="3.30" fill="#1b1b6e"/>
<rect x="464.04" y="155.30" width="3.96" height="3.30" fill="#1b1b6e"/>
<rect x="468.00" y="155.30" width="3.96" height="3.30" fill="#1b1b6e"/>
<rect x="471.96" y="155.30" width="3.96" height="3.30" fill="#1b1b6e"/>
<rect x="475.92" y="155.30" width="3.96" height="3.30" fill="#1b1b6e"/>
<rect x="372.74" y="155.30" width="0.44" height="3.30" fill="#7a7ab8" opacity="0.6"/>
<rect x="376.70" y="155.30" width="0.44" height="3.30" fill="#7a7ab8" opacity="0.6"/>
<rect x="380.66" y="155.30" width="0.44" height="3.30" fill="#7a7ab8" opacity="0.6"/>
<rect x="384.62" y="155.30" width="0.44" height="3.30" fill="#7a7ab8" opacity="0.6"/>
<rect x="388.58" y="155.30" width="0.44" height="3.30" fill="#7a7ab8" opacity="0.6"/>
<rect x="392.54" y="155.30" width="0.44" height="3.30" fill="#7a7ab8" opacity="0.6"/>
<rect x="396.50" y="155.30" width="0.44" height="3.30" fill="#7a7ab8" opacity="0.6"/>
<rect x="400.46" y="155.30" width="0.44" height="3.30" fill="#7a7ab8" opacity="0.6"/>
<rect x="404.42" y="155.30" width="0.44" height="3.30" fill="#7a7ab8" opacity="0.6"/>
<rect x="408.38" y="155.30" width="0.44" height="3.30" fill="#7a7ab8" opacity="0.6"/>
<rect x="412.34" y="155.30" width="0.44" height="3.30" fill="#7a7ab8" opacity="0.6"/>
<rect x="416.30" y="155.30" width="0.44" height="3.30" fill="#7a7ab8" opacity="0.6"/>
<rect x="420.26" y="155.30" width="0.44" height="3.30" fill="#7a7ab8" opacity="0.6"/>
<rect x="424.22" y="155.30" width="0.44" height="3.30" fill="#7a7ab8" opacity="0.6"/>
<rect x="428.18" y="155.30" width="0.44" height="3.30" fill="#7a7ab8" opacity="0.6"/>
<rect x="432.14" y="155.30" width="0.44" height="3.30" fill="#7a7ab8" opacity="0.6"/>
<rect x="436.10" y="155.30" width="0.44" height="3.30" fill="#7a7ab8" opacity="0.6"/>
<rect x="440.06" y="155.30" width="0.44" height="3.30" fill="#7a7ab8" opacity="0.6"/>
<rect x="444.02" y="155.30" width="0.44" height="3.30" fill="#7a7ab8" opacity="0.6"/>
<rect x="447.98" y="155.30" width="0.44" height="3.30" fill="#7a7ab8" opacity="0.6"/>
<rect x="451.94" y="155.30" width="0.44" height="3.30" fill="#7a7ab8" opacity="0.6"/>
<rect x="455.90" y="155.30" width="0.44" height="3.30" fill="#7a7ab8" opacity="0.6"/>
<rect x="459.86" y="155.30" width="0.44" height="3.30" fill="#7a7ab8" opacity="0.6"/>
<rect x="463.82" y="155.30" width="0.44" height="3.30" fill="#7a7ab8" opacity="0.6"/>
<rect x="467.78" y="155.30" width="0.44" height="3.30" fill="#7a7ab8" opacity="0.6"/>
<rect x="471.74" y="155.30" width="0.44" height="3.30" fill="#7a7ab8" opacity="0.6"/>
<rect x="475.70" y="155.30" width="0.44" height="3.30" fill="#7a7ab8" opacity="0.6"/>
<rect x="369.00" y="162.80" width="3.96" height="3.30" fill="#f6a623"/>
<rect x="372.96" y="162.80" width="3.96" height="3.30" fill="#f6a623"/>
<rect x="376.92" y="162.80" width="3.96" height="3.30" fill="#1b1b6e"/>
<rect x="380.88" y="162.80" width="3.96" height="3.30" fill="#1b1b6e"/>
<rect x="384.84" y="162.80" width="3.96" height="3.30" fill="#1b1b6e"/>
<rect x="388.80" y="162.80" width="3.96" height="3.30" fill="#1b1b6e"/>
<rect x="392.76" y="162.80" width="3.96" height="3.30" fill="#1b1b6e"/>
<rect x="396.72" y="162.80" width="3.96" height="3.30" fill="#1b1b6e"/>
<rect x="400.68" y="162.80" width="3.96" height="3.30" fill="#1b1b6e"/>
<rect x="404.64" y="162.80" width="3.96" height="3.30" fill="#1b1b6e"/>
<rect x="408.60" y="162.80" width="3.96" height="3.30" fill="#1b1b6e"/>
<rect x="412.56" y="162.80" width="3.96" height="3.30" fill="#1b1b6e"/>
<rect x="416.52" y="162.80" width="3.96" height="3.30" fill="#1b1b6e"/>
<rect x="420.48" y="162.80" width="3.96" height="3.30" fill="#1b1b6e"/>
<rect x="424.44" y="162.80" width="3.96" height="3.30" fill="#f6a623"/>
<rect x="428.40" y="162.80" width="3.96" height="3.30" fill="#1b1b6e"/>
<rect x="432.36" y="162.80" width="3.96" height="3.30" fill="#1b1b6e"/>
<rect x="436.32" y="162.80" width="3.96" height="3.30" fill="#1b1b6e"/>
<rect x="440.28" y="162.80" width="3.96" height="3.30" fill="#1b1b6e"/>
<rect x="444.24" y="162.80" width="3.96" height="3.30" fill="#1b1b6e"/>
<rect x="448.20" y="162.80" width="3.96" height="3.30" fill="#1b1b6e"/>
<rect x="452.16" y="162.80" width="3.96" height="3.30" fill="#1b1b6e"/>
<rect x="456.12" y="162.80" width="3.96" height="3.30" fill="#1b1b6e"/>
<rect x="460.08" y="162.80" width="3.96" height="3.30" fill="#1b1b6e"/>
<rect x="464.04" y="162.80" width="3.96" height="3.30" fill="#1b1b6e"/>
<rect x="468.00" y="162.80" width="3.96" height="3.30" fill="#1b1b6e"/>
<rect x="471.96" y="162.80" width="3.96" height="3.30" fill="#1b1b6e"/>
<rect x="475.92" y="162.80" width="3.96" height="3.30" fill="#1b1b6e"/>
<rect x="372.74" y="162.80" width="0.44" height="3.30" fill="#7a7ab8" opacity="0.6"/>
<rect x="376.70" y="162.80" width="0.44" height="3.30" fill="#7a7ab8" opacity="0.6"/>
<rect x="380.66" y="162.80" width="0.44" height="3.30" fill="#7a7ab8" opacity="0.6"/>
<rect x="384.62" y="162.80" width="0.44" height="3.30" fill="#7a7ab8" opacity="0.6"/>
<rect x="388.58" y="162.80" width="0.44" height="3.30" fill="#7a7ab8" opacity="0.6"/>
<rect x="392.54" y="162.80" width="0.44" height="3.30" fill="#7a7ab8" opacity="0.6"/>
<rect x="396.50" y="162.80" width="0.44" height="3.30" fill="#7a7ab8" opacity="0.6"/>
<rect x="400.46" y="162.80" width="0.44" height="3.30" fill="#7a7ab8" opacity="0.6"/>
<rect x="404.42" y="162.80" width="0.44" height="3.30" fill="#7a7ab8" opacity="0.6"/>
<rect x="408.38" y="162.80" width="0.44" height="3.30" fill="#7a7ab8" opacity="0.6"/>
<rect x="412.34" y="162.80" width="0.44" height="3.30" fill="#7a7ab8" opacity="0.6"/>
<rect x="416.30" y="162.80" width="0.44" height="3.30" fill="#7a7ab8" opacity="0.6"/>
<rect x="420.26" y="162.80" width="0.44" height="3.30" fill="#7a7ab8" opacity="0.6"/>
<rect x="424.22" y="162.80" width="0.44" height="3.30" fill="#7a7ab8" opacity="0.6"/>
<rect x="428.18" y="162.80" width="0.44" height="3.30" fill="#7a7ab8" opacity="0.6"/>
<rect x="432.14" y="162.80" width="0.44" height="3.30" fill="#7a7ab8" opacity="0.6"/>
<rect x="436.10" y="162.80" width="0.44" height="3.30" fill="#7a7ab8" opacity="0.6"/>
<rect x="440.06" y="162.80" width="0.44" height="3.30" fill="#7a7ab8" opacity="0.6"/>
<rect x="444.02" y="162.80" width="0.44" height="3.30" fill="#7a7ab8" opacity="0.6"/>
<rect x="447.98" y="162.80" width="0.44" height="3.30" fill="#7a7ab8" opacity="0.6"/>
<rect x="451.94" y="162.80" width="0.44" height="3.30" fill="#7a7ab8" opacity="0.6"/>
<rect x="455.90" y="162.80" width="0.44" height="3.30" fill="#7a7ab8" opacity="0.6"/>
<rect x="459.86" y="162.80" width="0.44" height="3.30" fill="#7a7ab8" opacity="0.6"/>
<rect x="463.82" y="162.80" width="0.44" height="3.30" fill="#7a7ab8" opacity="0.6"/>
<rect x="467.78" y="162.80" width="0.44" height="3.30" fill="#7a7ab8" opacity="0.6"/>
<rect x="471.74" y="162.80" width="0.44" height="3.30" fill="#7a7ab8" opacity="0.6"/>
<rect x="475.70" y="162.80" width="0.44" height="3.30" fill="#7a7ab8" opacity="0.6"/>
<rect x="369.00" y="172.30" width="3.96" height="3.30" fill="#f6a623"/>
<rect x="372.96" y="172.30" width="3.96" height="3.30" fill="#f6a623"/>
<rect x="376.92" y="172.30" width="3.96" height="3.30" fill="#1b1b6e"/>
<rect x="380.88" y="172.30" width="3.96" height="3.30" fill="#1b1b6e"/>
<rect x="384.84" y="172.30" width="3.96" height="3.30" fill="#1b1b6e"/>
<rect x="388.80" y="172.30" width="3.96" height="3.30" fill="#1b1b6e"/>
<rect x="392.76" y="172.30" width="3.96" height="3.30" fill="#1b1b6e"/>
<rect x="396.72" y="172.30" width="3.96" height="3.30" fill="#1b1b6e"/>
<rect x="400.68" y="172.30" width="3.96" height="3.30" fill="#1b1b6e"/>
<rect x="404.64" y="172.30" width="3.96" height="3.30" fill="#1b1b6e"/>
<rect x="408.60" y="172.30" width="3.96" height="3.30" fill="#1b1b6e"/>
<rect x="412.56" y="172.30" width="3.96" height="3.30" fill="#1b1b6e"/>
<rect x="416.52" y="172.30" width="3.96" height="3.30" fill="#1b1b6e"/>
<rect x="420.48" y="172.30" width="3.96" height="3.30" fill="#1b1b6e"/>
<rect x="424.44" y="172.30" width="3.96" height="3.30" fill="#f6a623"/>
<rect x="428.40" y="172.30" width="3.96" height="3.30" fill="#1b1b6e"/>
<rect x="432.36" y="172.30" width="3.96" height="3.30" fill="#1b1b6e"/>
<rect x="436.32" y="172.30" width="3.96" height="3.30" fill="#1b1b6e"/>
<rect x="440.28" y="172.30" width="3.96" height="3.30" fill="#1b1b6e"/>
<rect x="444.24" y="172.30" width="3.96" height="3.30" fill="#1b1b6e"/>
<rect x="448.20" y="172.30" width="3.96" height="3.30" fill="#1b1b6e"/>
<rect x="452.16" y="172.30" width="3.96" height="3.30" fill="#1b1b6e"/>
<rect x="456.12" y="172.30" width="3.96" height="3.30" fill="#1b1b6e"/>
<rect x="460.08" y="172.30" width="3.96" height="3.30" fill="#1b1b6e"/>
<rect x="464.04" y="172.30" width="3.96" height="3.30" fill="#1b1b6e"/>
<rect x="468.00" y="172.30" width="3.96" height="3.30" fill="#1b1b6e"/>
<rect x="471.96" y="172.30" width="3.96" height="3.30" fill="#1b1b6e"/>
<rect x="475.92" y="172.30" width="3.96" height="3.30" fill="#1b1b6e"/>
<rect x="372.74" y="172.30" width="0.44" height="3.30" fill="#7a7ab8" opacity="0.6"/>
<rect x="376.70" y="172.30" width="0.44" height="3.30" fill="#7a7ab8" opacity="0.6"/>
<rect x="380.66" y="172.30" width="0.44" height="3.30" fill="#7a7ab8" opacity="0.6"/>
<rect x="384.62" y="172.30" width="0.44" height="3.30" fill="#7a7ab8" opacity="0.6"/>
<rect x="388.58" y="172.30" width="0.44" height="3.30" fill="#7a7ab8" opacity="0.6"/>
<rect x="392.54" y="172.30" width="0.44" height="3.30" fill="#7a7ab8" opacity="0.6"/>
<rect x="396.50" y="172.30" width="0.44" height="3.30" fill="#7a7ab8" opacity="0.6"/>
<rect x="400.46" y="172.30" width="0.44" height="3.30" fill="#7a7ab8" opacity="0.6"/>
<rect x="404.42" y="172.30" width="0.44" height="3.30" fill="#7a7ab8" opacity="0.6"/>
<rect x="408.38" y="172.30" width="0.44" height="3.30" fill="#7a7ab8" opacity="0.6"/>
<rect x="412.34" y="172.30" width="0.44" height="3.30" fill="#7a7ab8" opacity="0.6"/>
<rect x="416.30" y="172.30" width="0.44" height="3.30" fill="#7a7ab8" opacity="0.6"/>
<rect x="420.26" y="172.30" width="0.44" height="3.30" fill="#7a7ab8" opacity="0.6"/>
<rect x="424.22" y="172.30" width="0.44" height="3.30" fill="#7a7ab8" opacity="0.6"/>
<rect x="428.18" y="172.30" width="0.44" height="3.30" fill="#7a7ab8" opacity="0.6"/>
<rect x="432.14" y="172.30" width="0.44" height="3.30" fill="#7a7ab8" opacity="0.6"/>
<rect x="436.10" y="172.30" width="0.44" height="3.30" fill="#7a7ab8" opacity="0.6"/>
<rect x="440.06" y="172.30" width="0.44" height="3.30" fill="#7a7ab8" opacity="0.6"/>
<rect x="444.02" y="172.30" width="0.44" height="3.30" fill="#7a7ab8" opacity="0.6"/>
<rect x="447.98" y="172.30" width="0.44" height="3.30" fill="#7a7ab8" opacity="0.6"/>
<rect x="451.94" y="172.30" width="0.44" height="3.30" fill="#7a7ab8" opacity="0.6"/>
<rect x="455.90" y="172.30" width="0.44" height="3.30" fill="#7a7ab8" opacity="0.6"/>
<rect x="459.86" y="172.30" width="0.44" height="3.30" fill="#7a7ab8" opacity="0.6"/>
<rect x="463.82" y="172.30" width="0.44" height="3.30" fill="#7a7ab8" opacity="0.6"/>
<rect x="467.78" y="172.30" width="0.44" height="3.30" fill="#7a7ab8" opacity="0.6"/>
<rect x="471.74" y="172.30" width="0.44" height="3.30" fill="#7a7ab8" opacity="0.6"/>
<rect x="475.70" y="172.30" width="0.44" height="3.30" fill="#7a7ab8" opacity="0.6"/>
<rect x="369.00" y="179.60" width="3.96" height="3.30" fill="#f6a623"/>
<rect x="372.96" y="179.60" width="3.96" height="3.30" fill="#f6a623"/>
<rect x="376.92" y="179.60" width="3.96" height="3.30" fill="#1b1b6e"/>
<rect x="380.88" y="179.60" width="3.96" height="3.30" fill="#1b1b6e"/>
<rect x="384.84" y="179.60" width="3.96" height="3.30" fill="#1b1b6e"/>
<rect x="388.80" y="179.60" width="3.96" height="3.30" fill="#1b1b6e"/>
<rect x="392.76" y="179.60" width="3.96" height="3.30" fill="#1b1b6e"/>
<rect x="396.72" y="179.60" width="3.96" height="3.30" fill="#1b1b6e"/>
<rect x="400.68" y="179.60" width="3.96" height="3.30" fill="#1b1b6e"/>
<rect x="404.64" y="179.60" width="3.96" height="3.30" fill="#1b1b6e"/>
<rect x="408.60" y="179.60" width="3.96" height="3.30" fill="#1b1b6e"/>
<rect x="412.56" y="179.60" width="3.96" height="3.30" fill="#1b1b6e"/>
<rect x="416.52" y="179.60" width="3.96" height="3.30" fill="#1b1b6e"/>
<rect x="420.48" y="179.60" width="3.96" height="3.30" fill="#1b1b6e"/>
<rect x="424.44" y="179.60" width="3.96" height="3.30" fill="#f6a623"/>
<rect x="428.40" y="179.60" width="3.96" height="3.30" fill="#1b1b6e"/>
<rect x="432.36" y="179.60" width="3.96" height="3.30" fill="#1b1b6e"/>
<rect x="436.32" y="179.60" width="3.96" height="3.30" fill="#1b1b6e"/>
<rect x="440.28" y="179.60" width="3.96" height="3.30" fill="#1b1b6e"/>
<rect x="444.24" y="179.60" width="3.96" height="3.30" fill="#1b1b6e"/>
<rect x="448.20" y="179.60" width="3.96" height="3.30" fill="#1b1b6e"/>
<rect x="452.16" y="179.60" width="3.96" height="3.30" fill="#1b1b6e"/>
<rect x="456.12" y="179.60" width="3.96" height="3.30" fill="#1b1b6e"/>
<rect x="460.08" y="179.60" width="3.96" height="3.30" fill="#1b1b6e"/>
<rect x="464.04" y="179.60" width="3.96" height="3.30" fill="#1b1b6e"/>
<rect x="468.00" y="179.60" width="3.96" height="3.30" fill="#1b1b6e"/>
<rect x="471.96" y="179.60" width="3.96" height="3.30" fill="#1b1b6e"/>
<rect x="475.92" y="179.60" width="3.96" height="3.30" fill="#1b1b6e"/>
<rect x="372.74" y="179.60" width="0.44" height="3.30" fill="#7a7ab8" opacity="0.6"/>
<rect x="376.70" y="179.60" width="0.44" height="3.30" fill="#7a7ab8" opacity="0.6"/>
<rect x="380.66" y="179.60" width="0.44" height="3.30" fill="#7a7ab8" opacity="0.6"/>
<rect x="384.62" y="179.60" width="0.44" height="3.30" fill="#7a7ab8" opacity="0.6"/>
<rect x="388.58" y="179.60" width="0.44" height="3.30" fill="#7a7ab8" opacity="0.6"/>
<rect x="392.54" y="179.60" width="0.44" height="3.30" fill="#7a7ab8" opacity="0.6"/>
<rect x="396.50" y="179.60" width="0.44" height="3.30" fill="#7a7ab8" opacity="0.6"/>
<rect x="400.46" y="179.60" width="0.44" height="3.30" fill="#7a7ab8" opacity="0.6"/>
<rect x="404.42" y="179.60" width="0.44" height="3.30" fill="#7a7ab8" opacity="0.6"/>
<rect x="408.38" y="179.60" width="0.44" height="3.30" fill="#7a7ab8" opacity="0.6"/>
<rect x="412.34" y="179.60" width="0.44" height="3.30" fill="#7a7ab8" opacity="0.6"/>
<rect x="416.30" y="179.60" width="0.44" height="3.30" fill="#7a7ab8" opacity="0.6"/>
<rect x="420.26" y="179.60" width="0.44" height="3.30" fill="#7a7ab8" opacity="0.6"/>
<rect x="424.22" y="179.60" width="0.44" height="3.30" fill="#7a7ab8" opacity="0.6"/>
<rect x="428.18" y="179.60" width="0.44" height="3.30" fill="#7a7ab8" opacity="0.6"/>
<rect x="432.14" y="179.60" width="0.44" height="3.30" fill="#7a7ab8" opacity="0.6"/>
<rect x="436.10" y="179.60" width="0.44" height="3.30" fill="#7a7ab8" opacity="0.6"/>
<rect x="440.06" y="179.60" width="0.44" height="3.30" fill="#7a7ab8" opacity="0.6"/>
<rect x="444.02" y="179.60" width="0.44" height="3.30" fill="#7a7ab8" opacity="0.6"/>
<rect x="447.98" y="179.60" width="0.44" height="3.30" fill="#7a7ab8" opacity="0.6"/>
<rect x="451.94" y="179.60" width="0.44" height="3.30" fill="#7a7ab8" opacity="0.6"/>
<rect x="455.90" y="179.60" width="0.44" height="3.30" fill="#7a7ab8" opacity="0.6"/>
<rect x="459.86" y="179.60" width="0.44" height="3.30" fill="#7a7ab8" opacity="0.6"/>
<rect x="463.82" y="179.60" width="0.44" height="3.30" fill="#7a7ab8" opacity="0.6"/>
<rect x="467.78" y="179.60" width="0.44" height="3.30" fill="#7a7ab8" opacity="0.6"/>
<rect x="471.74" y="179.60" width="0.44" height="3.30" fill="#7a7ab8" opacity="0.6"/>
<rect x="475.70" y="179.60" width="0.44" height="3.30" fill="#7a7ab8" opacity="0.6"/>
<text x="367.9" y="159.6" font-size="6.0" text-anchor="end" fill="#231f20" stroke="#231f20" stroke-width="0.220">Pre</text>
<text x="367.9" y="167.0" font-size="6.0" text-anchor="end" fill="#231f20" stroke="#231f20" stroke-width="0.220">Post</text>
<text x="367.9" y="176.4" font-size="6.0" text-anchor="end" fill="#231f20" stroke="#231f20" stroke-width="0.220">Pre</text>
<text x="367.9" y="183.6" font-size="6.0" text-anchor="end" fill="#231f20" stroke="#231f20" stroke-width="0.220">Post</text>
<text x="481.9" y="163.0" font-size="6.2" text-anchor="start" fill="#231f20" stroke="#231f20" stroke-width="0.220">PurIST</text>
<text x="481.9" y="179.6" font-size="6.2" text-anchor="start" fill="#231f20" stroke="#231f20" stroke-width="0.220">Moffitt</text>
<text x="489.9" y="125.9" font-size="6.1" text-anchor="start" fill="#231f20" stroke="#231f20" stroke-width="0.220">PurIST</text>
<rect x="489.90" y="129.00" width="5.30" height="5.10" fill="#f6a623"/>
<text x="497.0" y="133.8" font-size="5.2" text-anchor="start" fill="#333" stroke="#333" stroke-width="0.220">Basal−like</text>
<rect x="489.90" y="136.40" width="5.30" height="5.40" fill="#2b46a0"/>
<text x="497.0" y="141.2" font-size="5.2" text-anchor="start" fill="#333" stroke="#333" stroke-width="0.220">Classical</text>
<text x="30.8" y="210.6" font-size="7.3" text-anchor="start" fill="#231f20" stroke="#231f20" stroke-width="0.120">Linehan - Basal-like probability</text>
<rect x="31.4" y="218.6" width="104.9" height="104.70000000000002" fill="none" stroke="#474747" stroke-width="0.95"/>
<line x1="35.4" y1="323.3" x2="35.4" y2="327.5" stroke="#474747" stroke-width="0.95"/>
<text x="35.0" y="335.5" font-size="7.25" text-anchor="middle" fill="#231f20" stroke="#231f20" stroke-width="0.120">0.0</text>
<line x1="27.2" y1="319.6" x2="31.4" y2="319.6" stroke="#474747" stroke-width="0.95"/>
<text x="25.0" y="320.1" font-size="7.0" text-anchor="middle" fill="#231f20" stroke="#231f20" stroke-width="0.120" transform="rotate(-90 25.0 320.1)">0.0</text>
<line x1="54.78" y1="323.3" x2="54.78" y2="327.5" stroke="#474747" stroke-width="0.95"/>
<text x="54.38" y="335.5" font-size="7.25" text-anchor="middle" fill="#231f20" stroke="#231f20" stroke-width="0.120">0.2</text>
<line x1="27.2" y1="300.22" x2="31.4" y2="300.22" stroke="#474747" stroke-width="0.95"/>
<text x="25.0" y="300.72" font-size="7.0" text-anchor="middle" fill="#231f20" stroke="#231f20" stroke-width="0.120" transform="rotate(-90 25.0 300.72)">0.2</text>
<line x1="74.16" y1="323.3" x2="74.16" y2="327.5" stroke="#474747" stroke-width="0.95"/>
<text x="73.75999999999999" y="335.5" font-size="7.25" text-anchor="middle" fill="#231f20" stroke="#231f20" stroke-width="0.120">0.4</text>
<line x1="27.2" y1="280.84000000000003" x2="31.4" y2="280.84000000000003" stroke="#474747" stroke-width="0.95"/>
<text x="25.0" y="281.34000000000003" font-size="7.0" text-anchor="middle" fill="#231f20" stroke="#231f20" stroke-width="0.120" transform="rotate(-90 25.0 281.34000000000003)">0.4</text>
<line x1="93.53999999999999" y1="323.3" x2="93.53999999999999" y2="327.5" stroke="#474747" stroke-width="0.95"/>
<text x="93.13999999999999" y="335.5" font-size="7.25" text-anchor="middle" fill="#231f20" stroke="#231f20" stroke-width="0.120">0.6</text>
<line x1="27.2" y1="261.46000000000004" x2="31.4" y2="261.46000000000004" stroke="#474747" stroke-width="0.95"/>
<text x="25.0" y="261.96000000000004" font-size="7.0" text-anchor="middle" fill="#231f20" stroke="#231f20" stroke-width="0.120" transform="rotate(-90 25.0 261.96000000000004)">0.6</text>
<line x1="112.92000000000002" y1="323.3" x2="112.92000000000002" y2="327.5" stroke="#474747" stroke-width="0.95"/>
<text x="112.52000000000001" y="335.5" font-size="7.25" text-anchor="middle" fill="#231f20" stroke="#231f20" stroke-width="0.120">0.8</text>
<line x1="27.2" y1="242.08" x2="31.4" y2="242.08" stroke="#474747" stroke-width="0.95"/>
<text x="25.0" y="242.58" font-size="7.0" text-anchor="middle" fill="#231f20" stroke="#231f20" stroke-width="0.120" transform="rotate(-90 25.0 242.58)">0.8</text>
<line x1="132.3" y1="323.3" x2="132.3" y2="327.5" stroke="#474747" stroke-width="0.95"/>
<text x="131.9" y="335.5" font-size="7.25" text-anchor="middle" fill="#231f20" stroke="#231f20" stroke-width="0.120">1.0</text>
<line x1="27.2" y1="222.70000000000002" x2="31.4" y2="222.70000000000002" stroke="#474747" stroke-width="0.95"/>
<text x="25.0" y="223.20000000000002" font-size="7.0" text-anchor="middle" fill="#231f20" stroke="#231f20" stroke-width="0.120" transform="rotate(-90 25.0 223.20000000000002)">1.0</text>
<text x="84.0" y="347.7" font-size="7.6" text-anchor="middle" fill="#231f20" stroke="#231f20" stroke-width="0.120">Pretreatment</text>
<text x="12.4" y="270.7" font-size="7.4" text-anchor="middle" fill="#231f20" stroke="#231f20" stroke-width="0.120" transform="rotate(-90 12.4 270.7)">Posttreatment</text>
<text x="126.6" y="300.7" font-size="7" text-anchor="end" fill="#231f20" stroke="#231f20" stroke-width="0.12"><tspan font-style="italic">r</tspan> = 0.989</text>
<text x="129.2" y="311.0" font-size="7" text-anchor="end" fill="#231f20" stroke="#231f20" stroke-width="0.12"><tspan font-style="italic">P</tspan> &lt; 0.0001</text>
<circle cx="131.4" cy="237.8" r="1.5" fill="none" stroke="#d8a243" stroke-width="0.8"/>
<circle cx="111.1" cy="243.4" r="1.5" fill="none" stroke="#d8a243" stroke-width="0.8"/>
<circle cx="118.6" cy="253.4" r="1.5" fill="none" stroke="#d8a243" stroke-width="0.8"/>
<circle cx="35.5" cy="305.2" r="1.5" fill="none" stroke="#4a4a95" stroke-width="0.75"/>
<circle cx="35.5" cy="319.4" r="1.55" fill="none" stroke="#262678" stroke-width="0.9"/>
<circle cx="35.85" cy="319.4" r="1.55" fill="none" stroke="#262678" stroke-width="0.9"/>
<circle cx="35.15" cy="319.4" r="1.55" fill="none" stroke="#262678" stroke-width="0.9"/>
<text x="179.1" y="210.6" font-size="7.35" text-anchor="start" fill="#231f20" stroke="#231f20" stroke-width="0.120">COMPASS - Basal-like</text>
<rect x="179.8" y="217.5" width="105.5" height="105.60000000000002" fill="none" stroke="#474747" stroke-width="0.95"/>
<line x1="183.88000000000002" y1="323.1" x2="183.88000000000002" y2="327.3" stroke="#474747" stroke-width="0.95"/>
<text x="182.98000000000002" y="335.8" font-size="7.25" text-anchor="middle" fill="#231f20" stroke="#231f20" stroke-width="0.120">−20</text>
<line x1="203.3" y1="323.1" x2="203.3" y2="327.3" stroke="#474747" stroke-width="0.95"/>
<text x="203.10000000000002" y="335.8" font-size="7.25" text-anchor="middle" fill="#231f20" stroke="#231f20" stroke-width="0.120">0</text>
<line x1="222.72" y1="323.1" x2="222.72" y2="327.3" stroke="#474747" stroke-width="0.95"/>
<text x="222.52" y="335.8" font-size="7.25" text-anchor="middle" fill="#231f20" stroke="#231f20" stroke-width="0.120">20</text>
<line x1="242.14000000000001" y1="323.1" x2="242.14000000000001" y2="327.3" stroke="#474747" stroke-width="0.95"/>
<text x="241.94000000000003" y="335.8" font-size="7.25" text-anchor="middle" fill="#231f20" stroke="#231f20" stroke-width="0.120">40</text>
<line x1="261.56" y1="323.1" x2="261.56" y2="327.3" stroke="#474747" stroke-width="0.95"/>
<text x="261.36" y="335.8" font-size="7.25" text-anchor="middle" fill="#231f20" stroke="#231f20" stroke-width="0.120">60</text>
<line x1="280.98" y1="323.1" x2="280.98" y2="327.3" stroke="#474747" stroke-width="0.95"/>
<text x="280.78000000000003" y="335.8" font-size="7.25" text-anchor="middle" fill="#231f20" stroke="#231f20" stroke-width="0.120">80</text>
<line x1="175.60000000000002" y1="317.1" x2="179.8" y2="317.1" stroke="#474747" stroke-width="0.95"/>
<text x="173.0" y="317.40000000000003" font-size="7.0" text-anchor="middle" fill="#231f20" stroke="#231f20" stroke-width="0.120" transform="rotate(-90 173.0 317.40000000000003)">0.6</text>
<line x1="175.60000000000002" y1="292.65000000000003" x2="179.8" y2="292.65000000000003" stroke="#474747" stroke-width="0.95"/>
<text x="173.0" y="292.95000000000005" font-size="7.0" text-anchor="middle" fill="#231f20" stroke="#231f20" stroke-width="0.120" transform="rotate(-90 173.0 292.95000000000005)">0.7</text>
<line x1="175.60000000000002" y1="268.2" x2="179.8" y2="268.2" stroke="#474747" stroke-width="0.95"/>
<text x="173.0" y="268.5" font-size="7.0" text-anchor="middle" fill="#231f20" stroke="#231f20" stroke-width="0.120" transform="rotate(-90 173.0 268.5)">0.8</text>
<line x1="175.60000000000002" y1="243.75" x2="179.8" y2="243.75" stroke="#474747" stroke-width="0.95"/>
<text x="173.0" y="244.05" font-size="7.0" text-anchor="middle" fill="#231f20" stroke="#231f20" stroke-width="0.120" transform="rotate(-90 173.0 244.05)">0.9</text>
<line x1="175.60000000000002" y1="219.3" x2="179.8" y2="219.3" stroke="#474747" stroke-width="0.95"/>
<text x="173.0" y="219.60000000000002" font-size="7.0" text-anchor="middle" fill="#231f20" stroke="#231f20" stroke-width="0.120" transform="rotate(-90 173.0 219.60000000000002)">1.0</text>
<text x="231.8" y="347.6" font-size="7.5" text-anchor="middle" fill="#231f20" stroke="#231f20" stroke-width="0.120">% Change (w/o outlier)</text>
<text x="160.6" y="270.5" font-size="7.5" text-anchor="middle" fill="#231f20" stroke="#231f20" stroke-width="0.120" transform="rotate(-90 160.6 270.5)">Basal-like probability</text>
<text x="276.2" y="300.7" font-size="7" text-anchor="end" fill="#231f20" stroke="#231f20" stroke-width="0.12"><tspan font-style="italic">r</tspan> = 0.579</text>
<text x="278.5" y="314.1" font-size="7" text-anchor="end" fill="#231f20" stroke="#231f20" stroke-width="0.12"><tspan font-style="italic">P</tspan> = 0.0797</text>
<circle cx="208.6" cy="221.8" r="2.0" fill="#e8921c" stroke="none" stroke-width="0.8"/>
<circle cx="210.2" cy="221.8" r="2.0" fill="#e8921c" stroke="none" stroke-width="0.8"/>
<circle cx="220.2" cy="221.8" r="2.0" fill="#e8921c" stroke="none" stroke-width="0.8"/>
<circle cx="227.7" cy="221.8" r="2.0" fill="#e8921c" stroke="none" stroke-width="0.8"/>
<circle cx="236.8" cy="221.8" r="2.0" fill="#e8921c" stroke="none" stroke-width="0.8"/>
<circle cx="246.9" cy="221.8" r="2.0" fill="#e8921c" stroke="none" stroke-width="0.8"/>
<circle cx="276.8" cy="235.2" r="2.0" fill="#e8921c" stroke="none" stroke-width="0.8"/>
<circle cx="195.0" cy="272.4" r="2.0" fill="#e8921c" stroke="none" stroke-width="0.8"/>
<circle cx="184.7" cy="318.9" r="2.0" fill="#e8921c" stroke="none" stroke-width="0.8"/>
<text x="337.7" y="211.0" font-size="7.35" text-anchor="start" fill="#231f20" stroke="#231f20" stroke-width="0.120" xml:space="preserve">COMPASS -  Classical</text>
<rect x="338.4" y="218.7" width="106.5" height="106.19999999999999" fill="none" stroke="#474747" stroke-width="0.95"/>
<line x1="348.7" y1="324.9" x2="348.7" y2="329.09999999999997" stroke="#474747" stroke-width="0.95"/>
<text x="347.4" y="338.3" font-size="7.25" text-anchor="middle" fill="#231f20" stroke="#231f20" stroke-width="0.120">−50</text>
<line x1="363.25" y1="324.9" x2="363.25" y2="329.09999999999997" stroke="#474747" stroke-width="0.95"/>
<line x1="377.79999999999995" y1="324.9" x2="377.79999999999995" y2="329.09999999999997" stroke="#474747" stroke-width="0.95"/>
<text x="376.49999999999994" y="338.3" font-size="7.25" text-anchor="middle" fill="#231f20" stroke="#231f20" stroke-width="0.120">−30</text>
<line x1="392.34999999999997" y1="324.9" x2="392.34999999999997" y2="329.09999999999997" stroke="#474747" stroke-width="0.95"/>
<line x1="406.9" y1="324.9" x2="406.9" y2="329.09999999999997" stroke="#474747" stroke-width="0.95"/>
<text x="405.59999999999997" y="338.3" font-size="7.25" text-anchor="middle" fill="#231f20" stroke="#231f20" stroke-width="0.120">−10</text>
<line x1="421.45" y1="324.9" x2="421.45" y2="329.09999999999997" stroke="#474747" stroke-width="0.95"/>
<text x="420.95" y="338.3" font-size="7.25" text-anchor="middle" fill="#231f20" stroke="#231f20" stroke-width="0.120">0</text>
<line x1="436.0" y1="324.9" x2="436.0" y2="329.09999999999997" stroke="#474747" stroke-width="0.95"/>
<text x="435.5" y="338.3" font-size="7.25" text-anchor="middle" fill="#231f20" stroke="#231f20" stroke-width="0.120">10</text>
<line x1="334.2" y1="321.4" x2="338.4" y2="321.4" stroke="#474747" stroke-width="0.95"/>
<text x="331.6" y="321.7" font-size="7.0" text-anchor="middle" fill="#231f20" stroke="#231f20" stroke-width="0.120" transform="rotate(-90 331.6 321.7)">0.0</text>
<line x1="334.2" y1="297.79999999999995" x2="338.4" y2="297.79999999999995" stroke="#474747" stroke-width="0.95"/>
<text x="331.6" y="298.09999999999997" font-size="7.0" text-anchor="middle" fill="#231f20" stroke="#231f20" stroke-width="0.120" transform="rotate(-90 331.6 298.09999999999997)">0.1</text>
<line x1="334.2" y1="274.2" x2="338.4" y2="274.2" stroke="#474747" stroke-width="0.95"/>
<text x="331.6" y="274.5" font-size="7.0" text-anchor="middle" fill="#231f20" stroke="#231f20" stroke-width="0.120" transform="rotate(-90 331.6 274.5)">0.2</text>
<line x1="334.2" y1="250.59999999999997" x2="338.4" y2="250.59999999999997" stroke="#474747" stroke-width="0.95"/>
<text x="331.6" y="250.89999999999998" font-size="7.0" text-anchor="middle" fill="#231f20" stroke="#231f20" stroke-width="0.120" transform="rotate(-90 331.6 250.89999999999998)">0.3</text>
<line x1="334.2" y1="226.99999999999997" x2="338.4" y2="226.99999999999997" stroke="#474747" stroke-width="0.95"/>
<text x="331.6" y="227.29999999999998" font-size="7.0" text-anchor="middle" fill="#231f20" stroke="#231f20" stroke-width="0.120" transform="rotate(-90 331.6 227.29999999999998)">0.4</text>
<text x="390.7" y="349.0" font-size="7.5" text-anchor="middle" fill="#231f20" stroke="#231f20" stroke-width="0.120">% Change</text>
<text x="319.6" y="270.5" font-size="7.5" text-anchor="middle" fill="#231f20" stroke="#231f20" stroke-width="0.120" transform="rotate(-90 319.6 270.5)">Basal-like probability</text>
<text x="349.3" y="234.6" font-size="7" fill="#231f20" stroke="#231f20" stroke-width="0.12"><tspan font-style="italic">r</tspan> = 0.052</text>
<text x="346.7" y="246.8" font-size="7" fill="#231f20" stroke="#231f20" stroke-width="0.12"><tspan font-style="italic">P</tspan> = 0.7884</text>
<circle cx="342.5" cy="321.4" r="2.0" fill="#1f1f70" stroke="none" stroke-width="0.8"/>
<circle cx="347.6" cy="318.5" r="2.0" fill="#1f1f70" stroke="none" stroke-width="0.8"/>
<circle cx="354.6" cy="321.3" r="2.0" fill="#1f1f70" stroke="none" stroke-width="0.8"/>
<circle cx="356.6" cy="320.5" r="2.0" fill="#1f1f70" stroke="none" stroke-width="0.8"/>
<circle cx="359.6" cy="319.7" r="2.0" fill="#1f1f70" stroke="none" stroke-width="0.8"/>
<circle cx="361.6" cy="318.3" r="2.0" fill="#1f1f70" stroke="none" stroke-width="0.8"/>
<circle cx="373.1" cy="312.4" r="2.0" fill="#1f1f70" stroke="none" stroke-width="0.8"/>
<circle cx="377.1" cy="320.3" r="2.0" fill="#1f1f70" stroke="none" stroke-width="0.8"/>
<circle cx="381.1" cy="319.3" r="2.0" fill="#1f1f70" stroke="none" stroke-width="0.8"/>
<circle cx="386.4" cy="312.4" r="2.0" fill="#1f1f70" stroke="none" stroke-width="0.8"/>
<circle cx="389.0" cy="319.5" r="2.0" fill="#1f1f70" stroke="none" stroke-width="0.8"/>
<circle cx="398.3" cy="320.7" r="2.0" fill="#1f1f70" stroke="none" stroke-width="0.8"/>
<circle cx="403.4" cy="320.7" r="2.0" fill="#1f1f70" stroke="none" stroke-width="0.8"/>
<circle cx="408.8" cy="318.1" r="2.0" fill="#1f1f70" stroke="none" stroke-width="0.8"/>
<circle cx="412.8" cy="321.1" r="2.0" fill="#1f1f70" stroke="none" stroke-width="0.8"/>
<circle cx="415.4" cy="320.7" r="2.0" fill="#1f1f70" stroke="none" stroke-width="0.8"/>
<circle cx="415.4" cy="312.4" r="2.0" fill="#1f1f70" stroke="none" stroke-width="0.8"/>
<circle cx="427.7" cy="321.1" r="2.0" fill="#1f1f70" stroke="none" stroke-width="0.8"/>
<circle cx="431.3" cy="321.1" r="2.0" fill="#1f1f70" stroke="none" stroke-width="0.8"/>
<circle cx="435.0" cy="318.1" r="2.0" fill="#1f1f70" stroke="none" stroke-width="0.8"/>
<circle cx="441.2" cy="319.7" r="2.0" fill="#1f1f70" stroke="none" stroke-width="0.8"/>
<circle cx="404.8" cy="222.2" r="2.0" fill="#1f1f70" stroke="none" stroke-width="0.8"/>
<circle cx="412.8" cy="222.2" r="2.0" fill="#1f1f70" stroke="none" stroke-width="0.8"/>
<circle cx="342.6" cy="271.7" r="2.0" fill="#1f1f70" stroke="none" stroke-width="0.8"/>
<circle cx="392.3" cy="268.6" r="2.0" fill="#1f1f70" stroke="none" stroke-width="0.8"/>
<circle cx="395.7" cy="268.6" r="2.0" fill="#1f1f70" stroke="none" stroke-width="0.8"/>
</svg></body></html>
